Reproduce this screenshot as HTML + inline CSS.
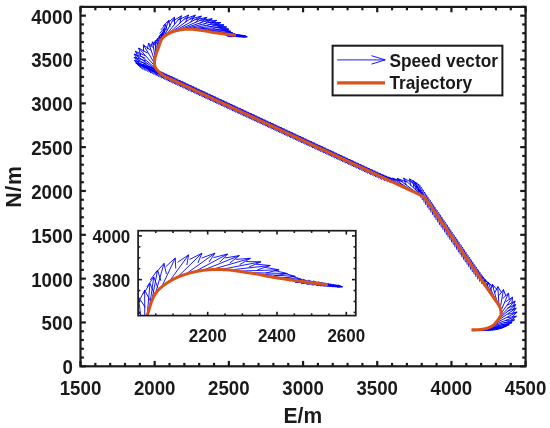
<!DOCTYPE html>
<html><head><meta charset="utf-8"><title>Trajectory</title>
<style>
html,body{margin:0;padding:0;background:#fff;}
svg{display:block;font-family:"Liberation Sans",Arial,sans-serif;font-weight:bold;fill:#1a1a1a;}
</style></head><body>
<svg width="550" height="428" viewBox="0 0 550 428">
<rect width="550" height="428" fill="#fff"/>
<defs>
<clipPath id="cm"><rect x="80.5" y="6.9" width="445.1" height="359.40000000000003"/></clipPath>
<clipPath id="ci"><rect x="138.1" y="230.7" width="217.70000000000002" height="84.90000000000003"/></clipPath>
</defs>
<g clip-path="url(#cm)" fill="none" stroke-linejoin="round">
<path d="M471.60 329.90 L481.99 329.86 M478.55 329.21 L481.99 329.86 L478.57 330.54 M472.57 329.90 L483.75 329.85 M480.05 329.15 L483.75 329.85 L480.07 330.59 M473.62 329.89 L485.66 329.83 M481.67 329.07 L485.66 329.83 L481.69 330.62 M474.75 329.87 L487.71 329.79 M483.42 328.98 L487.71 329.79 L483.45 330.65 M475.97 329.84 L489.93 329.71 M485.29 328.85 L489.93 329.71 L485.34 330.65 M477.28 329.79 L492.31 329.56 M487.31 328.67 L492.31 329.56 L487.39 330.60 M478.70 329.71 L494.87 329.32 M489.47 328.41 L494.87 329.32 L489.61 330.49 M480.22 329.58 L497.62 328.94 M491.76 328.03 L497.62 328.94 L491.99 330.27 M481.86 329.39 L500.51 328.37 M494.16 327.50 L500.51 328.37 L494.54 329.90 M483.60 329.11 L503.37 327.53 M496.55 326.78 L503.37 327.53 L497.14 329.32 M485.43 328.71 L506.30 326.35 M498.98 325.78 L506.30 326.35 L499.85 328.47 M487.36 328.16 L509.24 324.73 M501.39 324.45 L509.24 324.73 L502.65 327.27 M489.37 327.41 L512.06 322.59 M503.68 322.72 L512.06 322.59 L505.46 325.64 M491.43 326.40 L514.56 319.81 M505.71 320.50 L514.56 319.81 L508.14 323.47 M493.44 325.06 L516.40 316.28 M507.20 317.70 L516.40 316.28 L510.44 320.65 M495.29 323.31 L517.07 312.02 M507.81 314.35 L517.07 312.02 L511.97 317.15 M497.01 321.19 L516.19 308.04 M507.44 311.15 L516.19 308.04 L512.28 313.61 M498.69 318.94 L515.70 304.49 M507.42 308.16 L515.70 304.49 L512.75 310.35 M500.17 316.55 L515.08 301.03 M507.30 305.19 L515.08 301.03 L513.02 307.11 M500.96 313.85 L512.62 297.12 M505.69 301.89 L512.62 297.12 L511.86 303.39 M500.93 310.94 L508.49 293.15 M502.71 298.53 L508.49 293.15 L509.27 299.51 M500.24 308.10 L503.47 289.59 M498.99 295.49 L503.47 289.59 L505.81 295.90 M498.99 305.42 L497.82 286.59 M494.74 292.88 L497.82 286.59 L501.68 292.73 M497.36 302.90 L492.30 284.26 M490.53 290.73 L492.30 284.26 L497.40 290.08 M495.63 300.43 L487.87 282.09 M487.05 288.64 L487.87 282.09 L493.81 287.64 M493.91 297.96 L484.48 279.87 M484.26 286.45 L484.48 279.87 L490.92 285.24 M492.20 295.50 L481.73 277.58 M481.88 284.17 L481.73 277.58 L488.49 282.82 M490.50 293.04 L479.38 275.23 M479.77 281.82 L479.38 275.23 L486.33 280.39 M488.79 290.58 L477.28 272.82 M477.81 279.42 L477.28 272.82 L484.35 277.94 M487.09 288.11 L475.32 270.38 M475.94 276.99 L475.32 270.38 L482.47 275.47 M485.39 285.64 L473.46 267.92 M474.13 274.53 L473.46 267.92 L480.66 273.00 M483.68 283.16 L471.65 265.44 M472.36 272.07 L471.65 265.44 L478.89 270.52 M481.98 280.69 L469.87 262.96 M470.60 269.59 L469.87 262.96 L477.14 268.03 M480.28 278.22 L468.12 260.47 M468.86 267.11 L468.12 260.47 L475.40 265.55 M478.58 275.75 L466.37 257.99 M467.12 264.63 L466.37 257.99 L473.67 263.06 M476.87 273.28 L464.63 255.49 M465.39 262.15 L464.63 255.49 L471.95 260.58 M475.17 270.82 L462.91 253.00 M463.67 259.67 L462.91 253.00 L470.24 258.09 M473.47 268.35 L461.18 250.51 M461.95 257.18 L461.18 250.51 L468.52 255.60 M471.76 265.88 L459.46 248.01 M460.22 254.70 L459.46 248.01 L466.81 253.12 M470.06 263.41 L457.73 245.52 M458.50 252.21 L457.73 245.52 L465.10 250.63 M468.36 260.94 L456.01 243.02 M456.78 249.73 L456.01 243.02 L463.39 248.14 M466.65 258.47 L454.29 240.53 M455.06 247.24 L454.29 240.53 L461.68 245.65 M464.95 256.00 L452.57 238.03 M453.34 244.76 L452.57 238.03 L459.97 243.16 M463.25 253.53 L450.85 235.54 M451.62 242.27 L450.85 235.54 L458.26 240.68 M461.55 251.06 L449.13 233.04 M449.91 239.79 L449.13 233.04 L456.55 238.19 M459.84 248.59 L447.41 230.55 M448.19 237.30 L447.41 230.55 L454.84 235.70 M458.14 246.12 L445.69 228.05 M446.47 234.82 L445.69 228.05 L453.13 233.21 M456.44 243.65 L443.97 225.56 M444.75 232.33 L443.97 225.56 L451.42 230.72 M454.73 241.18 L442.25 223.06 M443.03 229.84 L442.25 223.06 L449.71 228.24 M453.03 238.71 L440.52 220.57 M441.31 227.36 L440.52 220.57 L448.00 225.75 M451.33 236.24 L438.80 218.07 M439.59 224.87 L438.80 218.07 L446.29 223.26 M449.63 233.77 L437.08 215.58 M437.87 222.39 L437.08 215.58 L444.58 220.77 M447.92 231.30 L435.36 213.08 M436.15 219.90 L435.36 213.08 L442.87 218.28 M446.22 228.83 L433.64 210.59 M434.43 217.42 L433.64 210.59 L441.16 215.80 M444.52 226.36 L431.92 208.09 M432.71 214.93 L431.92 208.09 L439.44 213.31 M442.81 223.89 L430.20 205.60 M430.99 212.44 L430.20 205.60 L437.74 210.82 M441.11 221.42 L428.48 203.10 M429.27 209.96 L428.48 203.10 L436.03 208.33 M439.41 218.95 L426.77 200.60 M427.56 207.47 L426.77 200.60 L434.32 205.84 M437.71 216.48 L425.05 198.11 M425.84 204.99 L425.05 198.11 L432.61 203.36 M436.00 214.01 L423.32 195.62 M424.11 202.50 L423.32 195.62 L430.89 200.87 M434.30 211.54 L421.58 193.13 M422.38 200.02 L421.58 193.13 L429.17 198.39 M432.59 209.07 L419.87 190.63 M420.67 197.54 L419.87 190.63 L427.46 195.90 M430.90 206.60 L418.18 188.13 M418.97 195.04 L418.18 188.13 L425.78 193.40 M429.20 204.12 L416.50 185.61 M417.28 192.54 L416.50 185.61 L424.11 190.90 M427.50 201.65 L414.78 183.12 M415.56 190.05 L414.78 183.12 L422.39 188.41 M425.78 199.19 L412.93 180.66 M413.76 187.60 L412.93 180.66 L420.59 185.95 M423.75 196.99 L409.47 178.79 M410.83 185.72 L409.47 178.79 L417.53 183.88 M421.26 195.34 L403.51 178.20 M406.21 185.00 L403.51 178.20 L412.53 182.71 M418.55 194.05 L397.22 178.36 M401.37 184.91 L397.22 178.36 L407.15 182.17 M415.82 192.79 L392.29 178.20 M397.37 184.53 L392.29 178.20 L402.74 181.50 M413.10 191.54 L388.19 177.73 M393.86 183.89 L388.19 177.73 L398.96 180.68 M410.37 190.29 L384.64 176.96 M390.68 183.01 L384.64 176.96 L395.59 179.70 M407.65 189.02 L381.43 175.99 M387.68 181.98 L381.43 175.99 L392.49 178.60 M404.93 187.76 L378.41 174.89 M384.79 180.84 L378.41 174.89 L389.53 177.43 M402.21 186.49 L375.48 173.73 M381.95 179.66 L375.48 173.73 L386.65 176.22 M399.49 185.23 L372.60 172.53 M379.13 178.45 L372.60 172.53 L383.82 174.99 M396.77 183.97 L369.77 171.30 M376.34 177.22 L369.77 171.30 L381.01 173.75 M394.04 182.71 L366.96 170.06 M373.56 175.98 L366.96 170.06 L378.23 172.49 M391.32 181.45 L364.17 168.80 M370.80 174.72 L364.17 168.80 L375.46 171.23 M388.60 180.19 L361.39 167.53 M368.03 173.46 L361.39 167.53 L372.70 169.96 M385.88 178.92 L358.61 166.26 M365.28 172.19 L358.61 166.26 L369.95 168.68 M383.16 177.66 L355.84 164.98 M362.52 170.92 L355.84 164.98 L367.20 167.41 M380.44 176.40 L353.08 163.70 M359.77 169.65 L353.08 163.70 L364.45 166.13 M377.71 175.14 L350.31 162.42 M357.01 168.38 L350.31 162.42 L361.70 164.86 M374.99 173.87 L347.55 161.14 M354.26 167.11 L347.55 161.14 L358.95 163.58 M372.27 172.61 L344.78 159.86 M351.50 165.84 L344.78 159.86 L356.20 162.30 M369.55 171.35 L342.02 158.58 M348.75 164.57 L342.02 158.58 L353.46 161.03 M366.83 170.09 L339.26 157.30 M346.00 163.30 L339.26 157.30 L350.71 159.75 M364.11 168.83 L336.49 156.02 M343.25 162.02 L336.49 156.02 L347.97 158.47 M361.38 167.56 L333.73 154.74 M340.49 160.75 L333.73 154.74 L345.22 157.19 M358.66 166.30 L330.97 153.46 M337.74 159.48 L330.97 153.46 L342.47 155.92 M355.94 165.04 L328.21 152.18 M334.99 158.21 L328.21 152.18 L339.73 154.64 M353.22 163.78 L325.44 150.90 M332.23 156.94 L325.44 150.90 L336.98 153.36 M350.50 162.52 L322.68 149.62 M329.48 155.66 L322.68 149.62 L334.24 152.08 M347.78 161.25 L319.92 148.34 M326.73 154.39 L319.92 148.34 L331.49 150.81 M345.05 159.99 L317.15 147.05 M323.98 153.12 L317.15 147.05 L328.75 149.53 M342.33 158.73 L314.39 145.77 M321.22 151.85 L314.39 145.77 L326.00 148.25 M339.61 157.47 L311.63 144.49 M318.47 150.57 L311.63 144.49 L323.25 146.97 M336.89 156.21 L308.87 143.21 M315.72 149.30 L308.87 143.21 L320.51 145.70 M334.17 154.94 L306.10 141.93 M312.97 148.03 L306.10 141.93 L317.76 144.42 M331.45 153.68 L303.34 140.65 M310.21 146.76 L303.34 140.65 L315.02 143.14 M328.73 152.42 L300.58 139.37 M307.46 145.49 L300.58 139.37 L312.27 141.86 M326.00 151.16 L297.82 138.09 M304.71 144.21 L297.82 138.09 L309.53 140.59 M323.28 149.90 L295.05 136.81 M301.96 142.94 L295.05 136.81 L306.78 139.31 M320.56 148.63 L292.29 135.52 M299.20 141.67 L292.29 135.52 L304.04 138.03 M317.84 147.37 L289.53 134.24 M296.45 140.40 L289.53 134.24 L301.29 136.75 M315.12 146.11 L286.76 132.96 M293.70 139.13 L286.76 132.96 L298.54 135.48 M312.40 144.85 L284.00 131.68 M290.94 137.85 L284.00 131.68 L295.80 134.20 M309.67 143.59 L281.24 130.40 M288.19 136.58 L281.24 130.40 L293.05 132.92 M306.95 142.32 L278.48 129.12 M285.44 135.31 L278.48 129.12 L290.31 131.64 M304.23 141.06 L275.71 127.84 M282.69 134.04 L275.71 127.84 L287.56 130.37 M301.51 139.80 L272.95 126.56 M279.93 132.76 L272.95 126.56 L284.82 129.09 M298.79 138.54 L270.19 125.28 M277.18 131.49 L270.19 125.28 L282.07 127.81 M296.07 137.28 L267.43 123.99 M274.43 130.22 L267.43 123.99 L279.32 126.53 M293.34 136.01 L264.66 122.71 M271.68 128.95 L264.66 122.71 L276.58 125.26 M290.62 134.75 L261.90 121.43 M268.92 127.68 L261.90 121.43 L273.83 123.98 M287.90 133.49 L259.14 120.15 M266.17 126.40 L259.14 120.15 L271.09 122.70 M285.18 132.23 L256.37 118.87 M263.42 125.13 L256.37 118.87 L268.34 121.42 M282.46 130.97 L253.61 117.59 M260.67 123.86 L253.61 117.59 L265.60 120.15 M279.74 129.70 L250.85 116.31 M257.91 122.59 L250.85 116.31 L262.85 118.87 M277.01 128.44 L248.09 115.03 M255.16 121.31 L248.09 115.03 L260.10 117.59 M274.29 127.18 L245.32 113.75 M252.41 120.04 L245.32 113.75 L257.36 116.31 M271.57 125.92 L242.56 112.46 M249.65 118.77 L242.56 112.46 L254.61 115.04 M268.85 124.65 L239.80 111.18 M246.90 117.50 L239.80 111.18 L251.87 113.76 M266.13 123.39 L237.04 109.90 M244.15 116.23 L237.04 109.90 L249.12 112.48 M263.41 122.13 L234.27 108.62 M241.40 114.95 L234.27 108.62 L246.38 111.20 M260.68 120.87 L231.51 107.34 M238.64 113.68 L231.51 107.34 L243.63 109.93 M257.96 119.61 L228.75 106.06 M235.89 112.41 L228.75 106.06 L240.89 108.65 M255.24 118.34 L225.98 104.78 M233.14 111.14 L225.98 104.78 L238.14 107.37 M252.52 117.08 L223.22 103.50 M230.39 109.87 L223.22 103.50 L235.39 106.10 M249.80 115.82 L220.46 102.22 M227.63 108.59 L220.46 102.22 L232.65 104.82 M247.08 114.56 L217.70 100.93 M224.88 107.32 L217.70 100.93 L229.90 103.54 M244.35 113.30 L214.93 99.65 M222.13 106.05 L214.93 99.65 L227.16 102.26 M241.63 112.03 L212.17 98.37 M219.38 104.78 L212.17 98.37 L224.41 100.99 M238.91 110.77 L209.41 97.09 M216.62 103.50 L209.41 97.09 L221.67 99.71 M236.19 109.51 L206.65 95.81 M213.87 102.23 L206.65 95.81 L218.92 98.43 M233.47 108.25 L203.88 94.53 M211.12 100.96 L203.88 94.53 L216.17 97.15 M230.75 106.99 L201.12 93.25 M208.36 99.69 L201.12 93.25 L213.43 95.88 M228.03 105.72 L198.36 91.97 M205.61 98.42 L198.36 91.97 L210.68 94.60 M225.30 104.46 L195.59 90.69 M202.86 97.14 L195.59 90.69 L207.94 93.32 M222.58 103.20 L192.83 89.40 M200.11 95.87 L192.83 89.40 L205.19 92.04 M219.86 101.94 L190.10 88.14 M197.38 94.61 L190.10 88.14 L202.46 90.78 M217.14 100.68 L187.38 86.88 M194.65 93.34 L187.38 86.88 L199.74 89.51 M214.42 99.41 L184.66 85.61 M191.93 92.08 L184.66 85.61 L197.02 88.25 M211.70 98.15 L181.93 84.35 M189.21 90.82 L181.93 84.35 L194.30 86.99 M208.97 96.89 L179.21 83.09 M186.49 89.56 L179.21 83.09 L191.58 85.73 M206.25 95.63 L176.49 81.83 M183.77 88.30 L176.49 81.83 L188.86 84.47 M203.53 94.37 L173.77 80.57 M181.05 87.03 L173.77 80.57 L186.13 83.20 M200.81 93.10 L171.05 79.30 M178.32 85.77 L171.05 79.30 L183.41 81.94 M198.09 91.84 L168.32 78.04 M175.60 84.51 L168.32 78.04 L180.69 80.68 M195.37 90.58 L165.60 76.78 M172.88 83.25 L165.60 76.78 L177.97 79.42 M192.64 89.32 L162.89 75.51 M170.16 81.98 L162.89 75.51 L175.25 78.15 M189.92 88.05 L160.17 74.25 M167.44 80.72 L160.17 74.25 L172.53 76.89 M187.20 86.79 L157.44 72.99 M164.72 79.46 L157.44 72.99 L169.80 75.63 M184.48 85.53 L154.70 71.74 M161.99 78.21 L154.70 71.74 L167.07 74.38 M181.75 84.27 L151.97 70.49 M159.26 76.95 L151.97 70.49 L164.34 73.12 M179.03 83.01 L149.27 69.21 M156.55 75.68 L149.27 69.21 L161.63 71.85 M176.32 81.74 L146.60 67.91 M153.86 74.38 L146.60 67.91 L158.96 70.56 M173.61 80.47 L143.93 66.61 M151.17 73.09 L143.93 66.61 L156.28 69.27 M170.89 79.21 L141.16 65.38 M148.42 71.85 L141.16 65.38 L153.52 68.03 M168.14 77.97 L138.26 64.26 M145.59 70.71 L138.26 64.26 L150.64 66.86 M165.41 76.69 L135.66 62.88 M142.94 69.35 L135.66 62.88 L148.03 65.53 M162.85 75.16 L134.28 60.51 M141.01 67.19 L134.28 60.51 L146.41 63.51 M160.51 73.30 L134.10 57.29 M139.87 64.27 L134.10 57.29 L145.76 60.88 M158.30 71.22 L134.10 54.04 M138.92 61.26 L134.10 54.04 L145.25 58.15 M156.31 68.95 L135.27 51.25 M138.95 58.44 L135.27 51.25 L145.47 55.74 M154.99 66.29 L138.64 48.04 M140.67 55.11 L138.64 48.04 L147.40 53.01 M154.49 63.30 L143.40 44.82 M143.65 51.64 L143.40 44.82 L150.46 50.21 M154.61 60.30 L148.56 43.03 M147.38 49.12 L148.56 43.03 L153.74 48.34 M155.10 57.53 L152.58 41.81 M150.52 47.16 L152.58 41.81 L156.31 46.84 M155.74 55.09 L155.39 40.63 M152.84 45.43 L155.39 40.63 L158.17 45.38 M156.45 52.91 L157.61 38.46 M154.56 43.15 L157.61 38.46 L159.89 43.30 M157.27 50.76 L159.69 36.37 M156.24 40.96 L159.69 36.37 L161.54 41.27 M158.10 48.61 L161.44 34.29 M157.70 38.80 L161.44 34.29 L162.98 39.23 M158.86 46.42 L162.66 32.13 M158.77 36.60 L162.66 32.13 L164.04 37.09 M159.56 44.18 L163.93 28.56 M159.61 33.43 L163.93 28.56 L165.37 33.99 M160.41 41.78 L165.69 24.51 M160.76 29.87 L165.69 24.51 L167.13 30.55 M161.66 39.33 L168.87 20.34 M162.99 26.14 L168.87 20.34 L169.99 27.07 M163.57 37.06 L174.49 17.22 M167.23 23.07 L174.49 17.22 L174.54 24.47 M165.96 35.18 L181.40 15.78 M172.73 21.19 L181.40 15.78 L179.88 23.17 M168.57 33.62 L188.62 15.05 M178.58 19.89 L188.62 15.05 L185.43 22.47 M171.28 32.33 L195.34 15.13 M184.23 19.26 L195.34 15.13 L190.57 22.35 M174.09 31.30 L201.45 16.05 M189.61 19.32 L201.45 16.05 L195.23 22.84 M176.99 30.51 L207.14 17.37 M194.77 19.77 L207.14 17.37 L199.61 23.65 M179.93 29.88 L212.19 18.80 M199.50 20.38 L212.19 18.80 L203.59 24.54 M182.89 29.43 L216.79 20.41 M203.94 21.21 L216.79 20.41 L207.26 25.57 M185.88 29.20 L220.80 22.55 M208.05 22.50 L220.80 22.55 L210.50 26.99 M188.88 29.16 L223.93 24.89 M211.57 24.05 L223.93 24.89 L213.15 28.56 M191.88 29.25 L226.55 27.01 M214.70 25.52 L226.55 27.01 L215.52 29.98 M194.87 29.49 L228.83 29.14 M217.56 27.07 L228.83 29.14 L217.69 31.44 M197.85 29.88 L230.81 31.31 M220.19 28.72 L230.81 31.31 L219.67 32.96 M200.82 30.32 L232.66 32.88 M222.62 29.99 L232.66 32.88 L221.68 34.09 M203.79 30.73 L234.57 33.85 M224.98 30.84 L234.57 33.85 L223.83 34.80 M206.69 31.21 L236.26 34.91 M227.18 31.78 L236.26 34.91 L225.82 35.59 M209.48 31.76 L236.85 35.87 M228.57 32.75 L236.85 35.87 L227.06 36.28 M212.09 32.23 L237.56 36.32 M229.91 33.33 L237.56 36.32 L228.40 36.61 M214.54 32.60 L238.38 36.34 M231.20 33.57 L238.38 36.34 L229.82 36.64 M216.84 32.91 L239.17 36.27 M232.42 33.72 L239.17 36.27 L231.18 36.60 M218.99 33.20 L239.89 36.24 M233.56 33.89 L239.89 36.24 L232.43 36.58 M221.00 33.47 L240.55 36.25 M234.61 34.07 L240.55 36.25 L233.59 36.59 M222.87 33.72 L241.16 36.27 M235.60 34.25 L241.16 36.27 L234.66 36.60 M224.62 33.94 L241.93 36.31 M236.66 34.42 L241.93 36.31 L235.79 36.64 M226.28 34.15 L242.71 36.36 M237.70 34.57 L242.71 36.36 L236.88 36.69 M227.86 34.34 L243.45 36.40 M238.68 34.72 L243.45 36.40 L237.92 36.73 M229.35 34.53 L244.15 36.45 M239.62 34.86 L244.15 36.45 L238.91 36.77 M230.76 34.70 L244.81 36.50 M240.50 35.00 L244.81 36.50 L239.84 36.81 M232.10 34.86 L245.43 36.54 M241.34 35.13 L245.43 36.54 L240.72 36.85 M233.38 35.01 L246.02 36.59 M242.14 35.26 L246.02 36.59 L241.56 36.88 M234.58 35.15 L246.58 36.64 M242.89 35.38 L246.58 36.64 L242.35 36.92 M235.73 35.29 L247.11 36.69 M243.61 35.49 L247.11 36.69 L243.09 36.96 M235.84 35.30 L247.16 36.69 M243.68 35.51 L247.16 36.69 L243.17 36.96" stroke="#0000ff" stroke-width="0.95"/>
<path d="M471.60 329.90 L472.08 329.90 L472.56 329.90 L473.05 329.89 L473.53 329.89 L474.02 329.88 L474.50 329.87 L474.99 329.87 L475.47 329.85 L475.96 329.84 L476.45 329.82 L476.94 329.80 L477.42 329.78 L477.91 329.76 L478.40 329.73 L478.88 329.69 L479.37 329.66 L479.86 329.61 L480.34 329.57 L480.83 329.51 L481.31 329.46 L481.79 329.39 L482.28 329.33 L482.76 329.25 L483.24 329.17 L483.72 329.08 L484.19 328.99 L484.67 328.89 L485.14 328.78 L485.62 328.66 L486.09 328.54 L486.56 328.41 L487.02 328.27 L487.49 328.12 L487.95 327.96 L488.41 327.80 L488.87 327.62 L489.33 327.43 L489.78 327.24 L490.22 327.03 L490.67 326.81 L491.10 326.59 L491.53 326.35 L491.95 326.10 L492.36 325.84 L492.77 325.57 L493.16 325.28 L493.54 324.99 L493.91 324.68 L494.27 324.36 L494.62 324.02 L494.96 323.68 L495.28 323.32 L495.60 322.96 L495.92 322.59 L496.22 322.21 L496.52 321.83 L496.82 321.44 L497.12 321.05 L497.41 320.65 L497.71 320.26 L498.00 319.86 L498.30 319.46 L498.59 319.07 L498.88 318.67 L499.16 318.26 L499.43 317.85 L499.69 317.44 L499.93 317.02 L500.15 316.59 L500.35 316.15 L500.53 315.70 L500.68 315.25 L500.80 314.78 L500.90 314.30 L500.97 313.82 L501.01 313.33 L501.04 312.84 L501.04 312.35 L501.02 311.85 L500.98 311.36 L500.92 310.88 L500.85 310.39 L500.75 309.91 L500.65 309.43 L500.52 308.96 L500.38 308.50 L500.22 308.04 L500.05 307.58 L499.86 307.13 L499.66 306.69 L499.44 306.26 L499.22 305.83 L498.98 305.41 L498.73 304.99 L498.47 304.57 L498.21 304.16 L497.94 303.76 L497.67 303.35 L497.39 302.95 L497.11 302.55 L496.83 302.15 L496.55 301.75 L496.27 301.35 L495.99 300.95 L495.72 300.55 L495.44 300.15 L495.16 299.75 L494.88 299.35 L494.60 298.95 L494.32 298.55 L494.04 298.15 L493.77 297.76 L493.49 297.36 L493.21 296.96 L492.94 296.56 L492.66 296.16 L492.38 295.76 L492.11 295.36 L491.83 294.97 L491.55 294.57 L491.28 294.17 L491.00 293.77 L490.72 293.37 L490.45 292.97 L490.17 292.57 L489.90 292.17 L489.62 291.77 L489.34 291.37 L489.07 290.97 L488.79 290.57 L488.52 290.18 L488.24 289.78 L487.96 289.38 L487.69 288.98 L487.41 288.58 L487.14 288.18 L486.86 287.78 L486.58 287.38 L486.31 286.97 L486.03 286.57 L485.76 286.17 L485.48 285.77 L485.21 285.37 L484.93 284.97 L484.65 284.57 L484.38 284.17 L484.10 283.77 L483.83 283.37 L483.55 282.97 L483.27 282.57 L483.00 282.17 L482.72 281.77 L482.45 281.37 L482.17 280.97 L481.90 280.57 L481.62 280.17 L481.34 279.77 L481.07 279.37 L480.79 278.97 L480.52 278.57 L480.24 278.17 L479.96 277.77 L479.69 277.37 L479.41 276.97 L479.14 276.57 L478.86 276.17 L478.59 275.77 L478.31 275.37 L478.03 274.97 L477.76 274.57 L477.48 274.17 L477.21 273.77 L476.93 273.37 L476.65 272.97 L476.38 272.57 L476.10 272.17 L475.83 271.77 L475.55 271.37 L475.27 270.97 L475.00 270.57 L474.72 270.17 L474.45 269.77 L474.17 269.37 L473.90 268.97 L473.62 268.57 L473.34 268.17 L473.07 267.77 L472.79 267.37 L472.52 266.97 L472.24 266.57 L471.96 266.17 L471.69 265.77 L471.41 265.37 L471.14 264.97 L470.86 264.57 L470.58 264.17 L470.31 263.77 L470.03 263.37 L469.76 262.97 L469.48 262.57 L469.21 262.17 L468.93 261.77 L468.65 261.36 L468.38 260.96 L468.10 260.56 L467.83 260.16 L467.55 259.76 L467.27 259.36 L467.00 258.96 L466.72 258.56 L466.45 258.16 L466.17 257.76 L465.90 257.36 L465.62 256.96 L465.34 256.56 L465.07 256.16 L464.79 255.76 L464.52 255.36 L464.24 254.96 L463.96 254.56 L463.69 254.16 L463.41 253.76 L463.14 253.36 L462.86 252.96 L462.58 252.56 L462.31 252.16 L462.03 251.76 L461.76 251.36 L461.48 250.96 L461.21 250.56 L460.93 250.16 L460.65 249.76 L460.38 249.36 L460.10 248.96 L459.83 248.56 L459.55 248.16 L459.27 247.76 L459.00 247.36 L458.72 246.96 L458.45 246.56 L458.17 246.16 L457.89 245.76 L457.62 245.36 L457.34 244.96 L457.07 244.56 L456.79 244.16 L456.52 243.76 L456.24 243.36 L455.96 242.96 L455.69 242.56 L455.41 242.16 L455.14 241.76 L454.86 241.36 L454.58 240.96 L454.31 240.56 L454.03 240.16 L453.76 239.76 L453.48 239.36 L453.21 238.96 L452.93 238.56 L452.65 238.16 L452.38 237.76 L452.10 237.36 L451.83 236.96 L451.55 236.56 L451.27 236.16 L451.00 235.76 L450.72 235.36 L450.45 234.96 L450.17 234.56 L449.89 234.16 L449.62 233.76 L449.34 233.36 L449.07 232.96 L448.79 232.56 L448.52 232.16 L448.24 231.76 L447.96 231.36 L447.69 230.96 L447.41 230.56 L447.14 230.16 L446.86 229.76 L446.58 229.36 L446.31 228.96 L446.03 228.56 L445.76 228.16 L445.48 227.76 L445.20 227.36 L444.93 226.96 L444.65 226.56 L444.38 226.16 L444.10 225.76 L443.83 225.36 L443.55 224.95 L443.27 224.55 L443.00 224.15 L442.72 223.75 L442.45 223.35 L442.17 222.95 L441.89 222.55 L441.62 222.15 L441.34 221.75 L441.07 221.35 L440.79 220.95 L440.52 220.55 L440.24 220.15 L439.96 219.75 L439.69 219.35 L439.41 218.95 L439.14 218.55 L438.86 218.15 L438.59 217.75 L438.31 217.35 L438.03 216.95 L437.76 216.55 L437.48 216.15 L437.21 215.75 L436.93 215.35 L436.65 214.95 L436.38 214.55 L436.10 214.15 L435.82 213.75 L435.55 213.35 L435.27 212.95 L435.00 212.55 L434.72 212.15 L434.44 211.75 L434.17 211.35 L433.89 210.95 L433.61 210.55 L433.34 210.15 L433.06 209.75 L432.79 209.35 L432.51 208.95 L432.24 208.55 L431.96 208.15 L431.69 207.75 L431.41 207.35 L431.14 206.95 L430.86 206.55 L430.59 206.15 L430.31 205.75 L430.04 205.34 L429.77 204.94 L429.49 204.54 L429.22 204.14 L428.94 203.74 L428.67 203.34 L428.39 202.94 L428.12 202.54 L427.84 202.14 L427.57 201.74 L427.29 201.34 L427.01 200.94 L426.73 200.54 L426.45 200.14 L426.17 199.75 L425.89 199.35 L425.61 198.96 L425.30 198.58 L424.99 198.21 L424.66 197.85 L424.32 197.50 L423.96 197.17 L423.59 196.86 L423.21 196.56 L422.82 196.27 L422.41 196.00 L422.00 195.74 L421.58 195.50 L421.14 195.28 L420.71 195.07 L420.27 194.86 L419.83 194.65 L419.39 194.44 L418.95 194.24 L418.51 194.03 L418.07 193.83 L417.63 193.62 L417.19 193.42 L416.75 193.21 L416.30 193.01 L415.86 192.81 L415.42 192.60 L414.98 192.40 L414.54 192.20 L414.10 192.00 L413.65 191.79 L413.21 191.59 L412.77 191.39 L412.33 191.19 L411.89 190.98 L411.45 190.78 L411.00 190.58 L410.56 190.37 L410.12 190.17 L409.68 189.97 L409.24 189.76 L408.80 189.56 L408.36 189.35 L407.92 189.15 L407.48 188.94 L407.04 188.74 L406.59 188.53 L406.15 188.33 L405.71 188.12 L405.27 187.92 L404.83 187.71 L404.39 187.51 L403.95 187.30 L403.51 187.10 L403.07 186.89 L402.63 186.69 L402.19 186.48 L401.75 186.28 L401.31 186.08 L400.87 185.87 L400.42 185.67 L399.98 185.46 L399.54 185.26 L399.10 185.05 L398.66 184.85 L398.22 184.64 L397.78 184.44 L397.34 184.24 L396.90 184.03 L396.46 183.83 L396.02 183.62 L395.57 183.42 L395.13 183.21 L394.69 183.01 L394.25 182.81 L393.81 182.60 L393.37 182.40 L392.93 182.19 L392.49 181.99 L392.05 181.78 L391.61 181.58 L391.16 181.37 L390.72 181.17 L390.28 180.97 L389.84 180.76 L389.40 180.56 L388.96 180.35 L388.52 180.15 L388.08 179.94 L387.64 179.74 L387.20 179.53 L386.76 179.33 L386.32 179.13 L385.87 178.92 L385.43 178.72 L384.99 178.51 L384.55 178.31 L384.11 178.10 L383.67 177.90 L383.23 177.69 L382.79 177.49 L382.35 177.28 L381.91 177.08 L381.47 176.88 L381.02 176.67 L380.58 176.47 L380.14 176.26 L379.70 176.06 L379.26 175.85 L378.82 175.65 L378.38 175.44 L377.94 175.24 L377.50 175.04 L377.06 174.83 L376.62 174.63 L376.17 174.42 L375.73 174.22 L375.29 174.01 L374.85 173.81 L374.41 173.60 L373.97 173.40 L373.53 173.20 L373.09 172.99 L372.65 172.79 L372.21 172.58 L371.77 172.38 L371.32 172.17 L370.88 171.97 L370.44 171.76 L370.00 171.56 L369.56 171.36 L369.12 171.15 L368.68 170.95 L368.24 170.74 L367.80 170.54 L367.36 170.33 L366.92 170.13 L366.47 169.92 L366.03 169.72 L365.59 169.52 L365.15 169.31 L364.71 169.11 L364.27 168.90 L363.83 168.70 L363.39 168.49 L362.95 168.29 L362.51 168.08 L362.07 167.88 L361.62 167.68 L361.18 167.47 L360.74 167.27 L360.30 167.06 L359.86 166.86 L359.42 166.65 L358.98 166.45 L358.54 166.24 L358.10 166.04 L357.66 165.84 L357.22 165.63 L356.77 165.43 L356.33 165.22 L355.89 165.02 L355.45 164.81 L355.01 164.61 L354.57 164.40 L354.13 164.20 L353.69 164.00 L353.25 163.79 L352.81 163.59 L352.37 163.38 L351.92 163.18 L351.48 162.97 L351.04 162.77 L350.60 162.56 L350.16 162.36 L349.72 162.16 L349.28 161.95 L348.84 161.75 L348.40 161.54 L347.96 161.34 L347.52 161.13 L347.07 160.93 L346.63 160.72 L346.19 160.52 L345.75 160.32 L345.31 160.11 L344.87 159.91 L344.43 159.70 L343.99 159.50 L343.55 159.29 L343.11 159.09 L342.67 158.88 L342.22 158.68 L341.78 158.48 L341.34 158.27 L340.90 158.07 L340.46 157.86 L340.02 157.66 L339.58 157.45 L339.14 157.25 L338.70 157.04 L338.26 156.84 L337.82 156.64 L337.38 156.43 L336.93 156.23 L336.49 156.02 L336.05 155.82 L335.61 155.61 L335.17 155.41 L334.73 155.20 L334.29 155.00 L333.85 154.80 L333.41 154.59 L332.97 154.39 L332.53 154.18 L332.08 153.98 L331.64 153.77 L331.20 153.57 L330.76 153.36 L330.32 153.16 L329.88 152.96 L329.44 152.75 L329.00 152.55 L328.56 152.34 L328.12 152.14 L327.68 151.93 L327.23 151.73 L326.79 151.52 L326.35 151.32 L325.91 151.12 L325.47 150.91 L325.03 150.71 L324.59 150.50 L324.15 150.30 L323.71 150.09 L323.27 149.89 L322.83 149.68 L322.38 149.48 L321.94 149.28 L321.50 149.07 L321.06 148.87 L320.62 148.66 L320.18 148.46 L319.74 148.25 L319.30 148.05 L318.86 147.84 L318.42 147.64 L317.98 147.44 L317.53 147.23 L317.09 147.03 L316.65 146.82 L316.21 146.62 L315.77 146.41 L315.33 146.21 L314.89 146.00 L314.45 145.80 L314.01 145.60 L313.57 145.39 L313.13 145.19 L312.68 144.98 L312.24 144.78 L311.80 144.57 L311.36 144.37 L310.92 144.16 L310.48 143.96 L310.04 143.76 L309.60 143.55 L309.16 143.35 L308.72 143.14 L308.28 142.94 L307.83 142.73 L307.39 142.53 L306.95 142.32 L306.51 142.12 L306.07 141.92 L305.63 141.71 L305.19 141.51 L304.75 141.30 L304.31 141.10 L303.87 140.89 L303.43 140.69 L302.98 140.48 L302.54 140.28 L302.10 140.07 L301.66 139.87 L301.22 139.67 L300.78 139.46 L300.34 139.26 L299.90 139.05 L299.46 138.85 L299.02 138.64 L298.58 138.44 L298.13 138.23 L297.69 138.03 L297.25 137.83 L296.81 137.62 L296.37 137.42 L295.93 137.21 L295.49 137.01 L295.05 136.80 L294.61 136.60 L294.17 136.39 L293.73 136.19 L293.28 135.99 L292.84 135.78 L292.40 135.58 L291.96 135.37 L291.52 135.17 L291.08 134.96 L290.64 134.76 L290.20 134.55 L289.76 134.35 L289.32 134.15 L288.88 133.94 L288.44 133.74 L287.99 133.53 L287.55 133.33 L287.11 133.12 L286.67 132.92 L286.23 132.71 L285.79 132.51 L285.35 132.31 L284.91 132.10 L284.47 131.90 L284.03 131.69 L283.59 131.49 L283.14 131.28 L282.70 131.08 L282.26 130.87 L281.82 130.67 L281.38 130.47 L280.94 130.26 L280.50 130.06 L280.06 129.85 L279.62 129.65 L279.18 129.44 L278.74 129.24 L278.29 129.03 L277.85 128.83 L277.41 128.63 L276.97 128.42 L276.53 128.22 L276.09 128.01 L275.65 127.81 L275.21 127.60 L274.77 127.40 L274.33 127.19 L273.89 126.99 L273.44 126.79 L273.00 126.58 L272.56 126.38 L272.12 126.17 L271.68 125.97 L271.24 125.76 L270.80 125.56 L270.36 125.35 L269.92 125.15 L269.48 124.95 L269.04 124.74 L268.59 124.54 L268.15 124.33 L267.71 124.13 L267.27 123.92 L266.83 123.72 L266.39 123.51 L265.95 123.31 L265.51 123.11 L265.07 122.90 L264.63 122.70 L264.19 122.49 L263.74 122.29 L263.30 122.08 L262.86 121.88 L262.42 121.67 L261.98 121.47 L261.54 121.27 L261.10 121.06 L260.66 120.86 L260.22 120.65 L259.78 120.45 L259.34 120.24 L258.89 120.04 L258.45 119.83 L258.01 119.63 L257.57 119.43 L257.13 119.22 L256.69 119.02 L256.25 118.81 L255.81 118.61 L255.37 118.40 L254.93 118.20 L254.49 117.99 L254.04 117.79 L253.60 117.59 L253.16 117.38 L252.72 117.18 L252.28 116.97 L251.84 116.77 L251.40 116.56 L250.96 116.36 L250.52 116.15 L250.08 115.95 L249.64 115.75 L249.19 115.54 L248.75 115.34 L248.31 115.13 L247.87 114.93 L247.43 114.72 L246.99 114.52 L246.55 114.31 L246.11 114.11 L245.67 113.91 L245.23 113.70 L244.79 113.50 L244.34 113.29 L243.90 113.09 L243.46 112.88 L243.02 112.68 L242.58 112.47 L242.14 112.27 L241.70 112.07 L241.26 111.86 L240.82 111.66 L240.38 111.45 L239.94 111.25 L239.50 111.04 L239.05 110.84 L238.61 110.63 L238.17 110.43 L237.73 110.23 L237.29 110.02 L236.85 109.82 L236.41 109.61 L235.97 109.41 L235.53 109.20 L235.09 109.00 L234.65 108.79 L234.20 108.59 L233.76 108.39 L233.32 108.18 L232.88 107.98 L232.44 107.77 L232.00 107.57 L231.56 107.36 L231.12 107.16 L230.68 106.95 L230.24 106.75 L229.80 106.55 L229.35 106.34 L228.91 106.14 L228.47 105.93 L228.03 105.73 L227.59 105.52 L227.15 105.32 L226.71 105.11 L226.27 104.91 L225.83 104.71 L225.39 104.50 L224.95 104.30 L224.50 104.09 L224.06 103.89 L223.62 103.68 L223.18 103.48 L222.74 103.27 L222.30 103.07 L221.86 102.86 L221.42 102.66 L220.98 102.46 L220.54 102.25 L220.10 102.05 L219.65 101.84 L219.21 101.64 L218.77 101.43 L218.33 101.23 L217.89 101.02 L217.45 100.82 L217.01 100.62 L216.57 100.41 L216.13 100.21 L215.69 100.00 L215.25 99.80 L214.80 99.59 L214.36 99.39 L213.92 99.18 L213.48 98.98 L213.04 98.78 L212.60 98.57 L212.16 98.37 L211.72 98.16 L211.28 97.96 L210.84 97.75 L210.40 97.55 L209.95 97.34 L209.51 97.14 L209.07 96.94 L208.63 96.73 L208.19 96.53 L207.75 96.32 L207.31 96.12 L206.87 95.91 L206.43 95.71 L205.99 95.50 L205.55 95.30 L205.10 95.10 L204.66 94.89 L204.22 94.69 L203.78 94.48 L203.34 94.28 L202.90 94.07 L202.46 93.87 L202.02 93.66 L201.58 93.46 L201.14 93.26 L200.70 93.05 L200.25 92.85 L199.81 92.64 L199.37 92.44 L198.93 92.23 L198.49 92.03 L198.05 91.82 L197.61 91.62 L197.17 91.42 L196.73 91.21 L196.29 91.01 L195.85 90.80 L195.40 90.60 L194.96 90.39 L194.52 90.19 L194.08 89.98 L193.64 89.78 L193.20 89.58 L192.76 89.37 L192.32 89.17 L191.88 88.96 L191.44 88.76 L191.00 88.55 L190.56 88.35 L190.12 88.14 L189.67 87.94 L189.23 87.73 L188.79 87.53 L188.35 87.33 L187.91 87.12 L187.47 86.92 L187.03 86.71 L186.59 86.51 L186.15 86.30 L185.70 86.10 L185.26 85.90 L184.82 85.69 L184.38 85.49 L183.94 85.29 L183.50 85.08 L183.06 84.88 L182.61 84.67 L182.17 84.47 L181.73 84.26 L181.29 84.06 L180.85 83.86 L180.41 83.65 L179.97 83.45 L179.53 83.24 L179.09 83.04 L178.65 82.83 L178.21 82.63 L177.77 82.42 L177.33 82.21 L176.89 82.01 L176.45 81.80 L176.01 81.59 L175.57 81.39 L175.13 81.18 L174.70 80.98 L174.26 80.77 L173.82 80.56 L173.38 80.36 L172.94 80.15 L172.50 79.95 L172.05 79.74 L171.61 79.54 L171.17 79.34 L170.73 79.13 L170.28 78.93 L169.84 78.73 L169.40 78.53 L168.95 78.33 L168.50 78.13 L168.06 77.94 L167.61 77.74 L167.16 77.53 L166.72 77.33 L166.28 77.12 L165.84 76.91 L165.41 76.69 L164.98 76.46 L164.55 76.23 L164.14 75.99 L163.72 75.74 L163.32 75.48 L162.92 75.21 L162.52 74.93 L162.14 74.64 L161.76 74.34 L161.38 74.04 L161.01 73.72 L160.64 73.40 L160.27 73.08 L159.91 72.75 L159.55 72.42 L159.19 72.08 L158.84 71.74 L158.48 71.40 L158.13 71.05 L157.78 70.70 L157.45 70.34 L157.12 69.98 L156.80 69.60 L156.50 69.22 L156.22 68.83 L155.95 68.43 L155.71 68.01 L155.49 67.58 L155.29 67.14 L155.12 66.68 L154.97 66.22 L154.84 65.75 L154.73 65.27 L154.64 64.78 L154.57 64.30 L154.52 63.81 L154.49 63.32 L154.47 62.83 L154.47 62.34 L154.48 61.85 L154.51 61.37 L154.55 60.88 L154.60 60.40 L154.66 59.91 L154.73 59.43 L154.81 58.95 L154.90 58.47 L155.00 57.99 L155.11 57.52 L155.22 57.04 L155.33 56.57 L155.46 56.10 L155.58 55.63 L155.72 55.16 L155.86 54.70 L156.00 54.23 L156.16 53.77 L156.31 53.31 L156.47 52.85 L156.64 52.40 L156.81 51.94 L156.98 51.49 L157.16 51.04 L157.33 50.59 L157.51 50.14 L157.69 49.69 L157.87 49.23 L158.04 48.78 L158.21 48.32 L158.38 47.86 L158.54 47.40 L158.69 46.93 L158.85 46.46 L159.00 45.99 L159.14 45.52 L159.29 45.05 L159.44 44.57 L159.59 44.10 L159.74 43.63 L159.90 43.17 L160.06 42.70 L160.23 42.25 L160.41 41.79 L160.60 41.35 L160.80 40.91 L161.01 40.48 L161.23 40.05 L161.47 39.64 L161.72 39.23 L161.99 38.84 L162.28 38.46 L162.59 38.09 L162.91 37.73 L163.24 37.38 L163.59 37.04 L163.95 36.71 L164.33 36.39 L164.71 36.09 L165.10 35.79 L165.50 35.49 L165.91 35.21 L166.32 34.94 L166.74 34.67 L167.16 34.41 L167.59 34.16 L168.02 33.92 L168.45 33.68 L168.88 33.46 L169.31 33.23 L169.75 33.02 L170.19 32.81 L170.63 32.61 L171.08 32.42 L171.52 32.23 L171.97 32.05 L172.42 31.88 L172.88 31.71 L173.34 31.55 L173.80 31.40 L174.26 31.25 L174.72 31.11 L175.19 30.98 L175.66 30.85 L176.13 30.72 L176.60 30.60 L177.08 30.49 L177.55 30.38 L178.03 30.27 L178.50 30.17 L178.98 30.07 L179.46 29.97 L179.94 29.88 L180.41 29.80 L180.89 29.71 L181.37 29.64 L181.85 29.57 L182.34 29.50 L182.82 29.44 L183.30 29.39 L183.78 29.34 L184.27 29.30 L184.75 29.26 L185.24 29.23 L185.72 29.21 L186.21 29.19 L186.69 29.18 L187.18 29.17 L187.67 29.16 L188.15 29.16 L188.64 29.16 L189.13 29.16 L189.61 29.17 L190.10 29.18 L190.59 29.20 L191.07 29.21 L191.56 29.23 L192.04 29.26 L192.53 29.28 L193.01 29.32 L193.50 29.35 L193.98 29.40 L194.47 29.44 L194.95 29.49 L195.43 29.55 L195.91 29.61 L196.40 29.68 L196.88 29.74 L197.36 29.81 L197.84 29.88 L198.32 29.96 L198.80 30.03 L199.28 30.10 L199.76 30.17 L200.24 30.24 L200.73 30.31 L201.21 30.37 L201.69 30.44 L202.17 30.50 L202.65 30.57 L203.13 30.63 L203.61 30.70 L204.10 30.77 L204.58 30.84 L205.06 30.92 L205.54 31.00 L206.01 31.08 L206.49 31.17 L206.97 31.26 L207.45 31.35 L207.92 31.45 L208.40 31.54 L208.88 31.64 L209.35 31.73 L209.83 31.83 L210.31 31.92 L210.79 32.01 L211.26 32.09 L211.74 32.18 L212.22 32.26 L212.70 32.33 L213.18 32.41 L213.66 32.48 L214.14 32.55 L214.63 32.61 L215.11 32.68 L215.59 32.75 L216.07 32.81 L216.55 32.88 L217.03 32.94 L217.52 33.00 L218.00 33.07 L218.48 33.13 L218.96 33.20 L219.44 33.26 L219.92 33.33 L220.41 33.39 L220.89 33.45 L221.37 33.52 L221.85 33.58 L222.33 33.65 L222.82 33.71 L223.30 33.77 L223.78 33.83 L224.26 33.89 L224.74 33.96 L225.23 34.02 L225.71 34.08 L226.19 34.14 L226.67 34.20 L227.15 34.26 L227.64 34.32 L228.12 34.38 L228.60 34.44 L229.08 34.50 L229.57 34.55 L230.05 34.61 L230.53 34.67 L231.01 34.73 L231.50 34.79 L231.98 34.84 L232.46 34.90 L232.94 34.96 L233.43 35.02 L233.91 35.07 L234.39 35.13 L234.87 35.19 L235.36 35.24 L235.84 35.30" stroke="#d95319" stroke-width="3.1" stroke-linecap="butt"/>
</g>
<line x1="80.50" y1="366.30" x2="80.50" y2="360.90" stroke="#1a1a1a" stroke-width="2.20"/>
<line x1="80.50" y1="6.90" x2="80.50" y2="12.30" stroke="#1a1a1a" stroke-width="2.20"/>
<line x1="95.34" y1="366.30" x2="95.34" y2="362.90" stroke="#1a1a1a" stroke-width="2.20"/>
<line x1="95.34" y1="6.90" x2="95.34" y2="10.30" stroke="#1a1a1a" stroke-width="2.20"/>
<line x1="110.17" y1="366.30" x2="110.17" y2="362.90" stroke="#1a1a1a" stroke-width="2.20"/>
<line x1="110.17" y1="6.90" x2="110.17" y2="10.30" stroke="#1a1a1a" stroke-width="2.20"/>
<line x1="125.01" y1="366.30" x2="125.01" y2="362.90" stroke="#1a1a1a" stroke-width="2.20"/>
<line x1="125.01" y1="6.90" x2="125.01" y2="10.30" stroke="#1a1a1a" stroke-width="2.20"/>
<line x1="139.85" y1="366.30" x2="139.85" y2="362.90" stroke="#1a1a1a" stroke-width="2.20"/>
<line x1="139.85" y1="6.90" x2="139.85" y2="10.30" stroke="#1a1a1a" stroke-width="2.20"/>
<line x1="154.68" y1="366.30" x2="154.68" y2="360.90" stroke="#1a1a1a" stroke-width="2.20"/>
<line x1="154.68" y1="6.90" x2="154.68" y2="12.30" stroke="#1a1a1a" stroke-width="2.20"/>
<line x1="169.52" y1="366.30" x2="169.52" y2="362.90" stroke="#1a1a1a" stroke-width="2.20"/>
<line x1="169.52" y1="6.90" x2="169.52" y2="10.30" stroke="#1a1a1a" stroke-width="2.20"/>
<line x1="184.36" y1="366.30" x2="184.36" y2="362.90" stroke="#1a1a1a" stroke-width="2.20"/>
<line x1="184.36" y1="6.90" x2="184.36" y2="10.30" stroke="#1a1a1a" stroke-width="2.20"/>
<line x1="199.19" y1="366.30" x2="199.19" y2="362.90" stroke="#1a1a1a" stroke-width="2.20"/>
<line x1="199.19" y1="6.90" x2="199.19" y2="10.30" stroke="#1a1a1a" stroke-width="2.20"/>
<line x1="214.03" y1="366.30" x2="214.03" y2="362.90" stroke="#1a1a1a" stroke-width="2.20"/>
<line x1="214.03" y1="6.90" x2="214.03" y2="10.30" stroke="#1a1a1a" stroke-width="2.20"/>
<line x1="228.87" y1="366.30" x2="228.87" y2="360.90" stroke="#1a1a1a" stroke-width="2.20"/>
<line x1="228.87" y1="6.90" x2="228.87" y2="12.30" stroke="#1a1a1a" stroke-width="2.20"/>
<line x1="243.70" y1="366.30" x2="243.70" y2="362.90" stroke="#1a1a1a" stroke-width="2.20"/>
<line x1="243.70" y1="6.90" x2="243.70" y2="10.30" stroke="#1a1a1a" stroke-width="2.20"/>
<line x1="258.54" y1="366.30" x2="258.54" y2="362.90" stroke="#1a1a1a" stroke-width="2.20"/>
<line x1="258.54" y1="6.90" x2="258.54" y2="10.30" stroke="#1a1a1a" stroke-width="2.20"/>
<line x1="273.38" y1="366.30" x2="273.38" y2="362.90" stroke="#1a1a1a" stroke-width="2.20"/>
<line x1="273.38" y1="6.90" x2="273.38" y2="10.30" stroke="#1a1a1a" stroke-width="2.20"/>
<line x1="288.21" y1="366.30" x2="288.21" y2="362.90" stroke="#1a1a1a" stroke-width="2.20"/>
<line x1="288.21" y1="6.90" x2="288.21" y2="10.30" stroke="#1a1a1a" stroke-width="2.20"/>
<line x1="303.05" y1="366.30" x2="303.05" y2="360.90" stroke="#1a1a1a" stroke-width="2.20"/>
<line x1="303.05" y1="6.90" x2="303.05" y2="12.30" stroke="#1a1a1a" stroke-width="2.20"/>
<line x1="317.89" y1="366.30" x2="317.89" y2="362.90" stroke="#1a1a1a" stroke-width="2.20"/>
<line x1="317.89" y1="6.90" x2="317.89" y2="10.30" stroke="#1a1a1a" stroke-width="2.20"/>
<line x1="332.72" y1="366.30" x2="332.72" y2="362.90" stroke="#1a1a1a" stroke-width="2.20"/>
<line x1="332.72" y1="6.90" x2="332.72" y2="10.30" stroke="#1a1a1a" stroke-width="2.20"/>
<line x1="347.56" y1="366.30" x2="347.56" y2="362.90" stroke="#1a1a1a" stroke-width="2.20"/>
<line x1="347.56" y1="6.90" x2="347.56" y2="10.30" stroke="#1a1a1a" stroke-width="2.20"/>
<line x1="362.40" y1="366.30" x2="362.40" y2="362.90" stroke="#1a1a1a" stroke-width="2.20"/>
<line x1="362.40" y1="6.90" x2="362.40" y2="10.30" stroke="#1a1a1a" stroke-width="2.20"/>
<line x1="377.23" y1="366.30" x2="377.23" y2="360.90" stroke="#1a1a1a" stroke-width="2.20"/>
<line x1="377.23" y1="6.90" x2="377.23" y2="12.30" stroke="#1a1a1a" stroke-width="2.20"/>
<line x1="392.07" y1="366.30" x2="392.07" y2="362.90" stroke="#1a1a1a" stroke-width="2.20"/>
<line x1="392.07" y1="6.90" x2="392.07" y2="10.30" stroke="#1a1a1a" stroke-width="2.20"/>
<line x1="406.91" y1="366.30" x2="406.91" y2="362.90" stroke="#1a1a1a" stroke-width="2.20"/>
<line x1="406.91" y1="6.90" x2="406.91" y2="10.30" stroke="#1a1a1a" stroke-width="2.20"/>
<line x1="421.74" y1="366.30" x2="421.74" y2="362.90" stroke="#1a1a1a" stroke-width="2.20"/>
<line x1="421.74" y1="6.90" x2="421.74" y2="10.30" stroke="#1a1a1a" stroke-width="2.20"/>
<line x1="436.58" y1="366.30" x2="436.58" y2="362.90" stroke="#1a1a1a" stroke-width="2.20"/>
<line x1="436.58" y1="6.90" x2="436.58" y2="10.30" stroke="#1a1a1a" stroke-width="2.20"/>
<line x1="451.42" y1="366.30" x2="451.42" y2="360.90" stroke="#1a1a1a" stroke-width="2.20"/>
<line x1="451.42" y1="6.90" x2="451.42" y2="12.30" stroke="#1a1a1a" stroke-width="2.20"/>
<line x1="466.25" y1="366.30" x2="466.25" y2="362.90" stroke="#1a1a1a" stroke-width="2.20"/>
<line x1="466.25" y1="6.90" x2="466.25" y2="10.30" stroke="#1a1a1a" stroke-width="2.20"/>
<line x1="481.09" y1="366.30" x2="481.09" y2="362.90" stroke="#1a1a1a" stroke-width="2.20"/>
<line x1="481.09" y1="6.90" x2="481.09" y2="10.30" stroke="#1a1a1a" stroke-width="2.20"/>
<line x1="495.93" y1="366.30" x2="495.93" y2="362.90" stroke="#1a1a1a" stroke-width="2.20"/>
<line x1="495.93" y1="6.90" x2="495.93" y2="10.30" stroke="#1a1a1a" stroke-width="2.20"/>
<line x1="510.76" y1="366.30" x2="510.76" y2="362.90" stroke="#1a1a1a" stroke-width="2.20"/>
<line x1="510.76" y1="6.90" x2="510.76" y2="10.30" stroke="#1a1a1a" stroke-width="2.20"/>
<line x1="525.60" y1="366.30" x2="525.60" y2="360.90" stroke="#1a1a1a" stroke-width="2.20"/>
<line x1="525.60" y1="6.90" x2="525.60" y2="12.30" stroke="#1a1a1a" stroke-width="2.20"/>
<line x1="80.50" y1="366.30" x2="85.90" y2="366.30" stroke="#1a1a1a" stroke-width="2.20"/>
<line x1="525.60" y1="366.30" x2="520.20" y2="366.30" stroke="#1a1a1a" stroke-width="2.20"/>
<line x1="80.50" y1="357.53" x2="83.90" y2="357.53" stroke="#1a1a1a" stroke-width="2.20"/>
<line x1="525.60" y1="357.53" x2="522.20" y2="357.53" stroke="#1a1a1a" stroke-width="2.20"/>
<line x1="80.50" y1="348.77" x2="83.90" y2="348.77" stroke="#1a1a1a" stroke-width="2.20"/>
<line x1="525.60" y1="348.77" x2="522.20" y2="348.77" stroke="#1a1a1a" stroke-width="2.20"/>
<line x1="80.50" y1="340.00" x2="83.90" y2="340.00" stroke="#1a1a1a" stroke-width="2.20"/>
<line x1="525.60" y1="340.00" x2="522.20" y2="340.00" stroke="#1a1a1a" stroke-width="2.20"/>
<line x1="80.50" y1="331.24" x2="83.90" y2="331.24" stroke="#1a1a1a" stroke-width="2.20"/>
<line x1="525.60" y1="331.24" x2="522.20" y2="331.24" stroke="#1a1a1a" stroke-width="2.20"/>
<line x1="80.50" y1="322.47" x2="85.90" y2="322.47" stroke="#1a1a1a" stroke-width="2.20"/>
<line x1="525.60" y1="322.47" x2="520.20" y2="322.47" stroke="#1a1a1a" stroke-width="2.20"/>
<line x1="80.50" y1="313.70" x2="83.90" y2="313.70" stroke="#1a1a1a" stroke-width="2.20"/>
<line x1="525.60" y1="313.70" x2="522.20" y2="313.70" stroke="#1a1a1a" stroke-width="2.20"/>
<line x1="80.50" y1="304.94" x2="83.90" y2="304.94" stroke="#1a1a1a" stroke-width="2.20"/>
<line x1="525.60" y1="304.94" x2="522.20" y2="304.94" stroke="#1a1a1a" stroke-width="2.20"/>
<line x1="80.50" y1="296.17" x2="83.90" y2="296.17" stroke="#1a1a1a" stroke-width="2.20"/>
<line x1="525.60" y1="296.17" x2="522.20" y2="296.17" stroke="#1a1a1a" stroke-width="2.20"/>
<line x1="80.50" y1="287.41" x2="83.90" y2="287.41" stroke="#1a1a1a" stroke-width="2.20"/>
<line x1="525.60" y1="287.41" x2="522.20" y2="287.41" stroke="#1a1a1a" stroke-width="2.20"/>
<line x1="80.50" y1="278.64" x2="85.90" y2="278.64" stroke="#1a1a1a" stroke-width="2.20"/>
<line x1="525.60" y1="278.64" x2="520.20" y2="278.64" stroke="#1a1a1a" stroke-width="2.20"/>
<line x1="80.50" y1="269.88" x2="83.90" y2="269.88" stroke="#1a1a1a" stroke-width="2.20"/>
<line x1="525.60" y1="269.88" x2="522.20" y2="269.88" stroke="#1a1a1a" stroke-width="2.20"/>
<line x1="80.50" y1="261.11" x2="83.90" y2="261.11" stroke="#1a1a1a" stroke-width="2.20"/>
<line x1="525.60" y1="261.11" x2="522.20" y2="261.11" stroke="#1a1a1a" stroke-width="2.20"/>
<line x1="80.50" y1="252.34" x2="83.90" y2="252.34" stroke="#1a1a1a" stroke-width="2.20"/>
<line x1="525.60" y1="252.34" x2="522.20" y2="252.34" stroke="#1a1a1a" stroke-width="2.20"/>
<line x1="80.50" y1="243.58" x2="83.90" y2="243.58" stroke="#1a1a1a" stroke-width="2.20"/>
<line x1="525.60" y1="243.58" x2="522.20" y2="243.58" stroke="#1a1a1a" stroke-width="2.20"/>
<line x1="80.50" y1="234.81" x2="85.90" y2="234.81" stroke="#1a1a1a" stroke-width="2.20"/>
<line x1="525.60" y1="234.81" x2="520.20" y2="234.81" stroke="#1a1a1a" stroke-width="2.20"/>
<line x1="80.50" y1="226.05" x2="83.90" y2="226.05" stroke="#1a1a1a" stroke-width="2.20"/>
<line x1="525.60" y1="226.05" x2="522.20" y2="226.05" stroke="#1a1a1a" stroke-width="2.20"/>
<line x1="80.50" y1="217.28" x2="83.90" y2="217.28" stroke="#1a1a1a" stroke-width="2.20"/>
<line x1="525.60" y1="217.28" x2="522.20" y2="217.28" stroke="#1a1a1a" stroke-width="2.20"/>
<line x1="80.50" y1="208.51" x2="83.90" y2="208.51" stroke="#1a1a1a" stroke-width="2.20"/>
<line x1="525.60" y1="208.51" x2="522.20" y2="208.51" stroke="#1a1a1a" stroke-width="2.20"/>
<line x1="80.50" y1="199.75" x2="83.90" y2="199.75" stroke="#1a1a1a" stroke-width="2.20"/>
<line x1="525.60" y1="199.75" x2="522.20" y2="199.75" stroke="#1a1a1a" stroke-width="2.20"/>
<line x1="80.50" y1="190.98" x2="85.90" y2="190.98" stroke="#1a1a1a" stroke-width="2.20"/>
<line x1="525.60" y1="190.98" x2="520.20" y2="190.98" stroke="#1a1a1a" stroke-width="2.20"/>
<line x1="80.50" y1="182.22" x2="83.90" y2="182.22" stroke="#1a1a1a" stroke-width="2.20"/>
<line x1="525.60" y1="182.22" x2="522.20" y2="182.22" stroke="#1a1a1a" stroke-width="2.20"/>
<line x1="80.50" y1="173.45" x2="83.90" y2="173.45" stroke="#1a1a1a" stroke-width="2.20"/>
<line x1="525.60" y1="173.45" x2="522.20" y2="173.45" stroke="#1a1a1a" stroke-width="2.20"/>
<line x1="80.50" y1="164.69" x2="83.90" y2="164.69" stroke="#1a1a1a" stroke-width="2.20"/>
<line x1="525.60" y1="164.69" x2="522.20" y2="164.69" stroke="#1a1a1a" stroke-width="2.20"/>
<line x1="80.50" y1="155.92" x2="83.90" y2="155.92" stroke="#1a1a1a" stroke-width="2.20"/>
<line x1="525.60" y1="155.92" x2="522.20" y2="155.92" stroke="#1a1a1a" stroke-width="2.20"/>
<line x1="80.50" y1="147.15" x2="85.90" y2="147.15" stroke="#1a1a1a" stroke-width="2.20"/>
<line x1="525.60" y1="147.15" x2="520.20" y2="147.15" stroke="#1a1a1a" stroke-width="2.20"/>
<line x1="80.50" y1="138.39" x2="83.90" y2="138.39" stroke="#1a1a1a" stroke-width="2.20"/>
<line x1="525.60" y1="138.39" x2="522.20" y2="138.39" stroke="#1a1a1a" stroke-width="2.20"/>
<line x1="80.50" y1="129.62" x2="83.90" y2="129.62" stroke="#1a1a1a" stroke-width="2.20"/>
<line x1="525.60" y1="129.62" x2="522.20" y2="129.62" stroke="#1a1a1a" stroke-width="2.20"/>
<line x1="80.50" y1="120.86" x2="83.90" y2="120.86" stroke="#1a1a1a" stroke-width="2.20"/>
<line x1="525.60" y1="120.86" x2="522.20" y2="120.86" stroke="#1a1a1a" stroke-width="2.20"/>
<line x1="80.50" y1="112.09" x2="83.90" y2="112.09" stroke="#1a1a1a" stroke-width="2.20"/>
<line x1="525.60" y1="112.09" x2="522.20" y2="112.09" stroke="#1a1a1a" stroke-width="2.20"/>
<line x1="80.50" y1="103.32" x2="85.90" y2="103.32" stroke="#1a1a1a" stroke-width="2.20"/>
<line x1="525.60" y1="103.32" x2="520.20" y2="103.32" stroke="#1a1a1a" stroke-width="2.20"/>
<line x1="80.50" y1="94.56" x2="83.90" y2="94.56" stroke="#1a1a1a" stroke-width="2.20"/>
<line x1="525.60" y1="94.56" x2="522.20" y2="94.56" stroke="#1a1a1a" stroke-width="2.20"/>
<line x1="80.50" y1="85.79" x2="83.90" y2="85.79" stroke="#1a1a1a" stroke-width="2.20"/>
<line x1="525.60" y1="85.79" x2="522.20" y2="85.79" stroke="#1a1a1a" stroke-width="2.20"/>
<line x1="80.50" y1="77.03" x2="83.90" y2="77.03" stroke="#1a1a1a" stroke-width="2.20"/>
<line x1="525.60" y1="77.03" x2="522.20" y2="77.03" stroke="#1a1a1a" stroke-width="2.20"/>
<line x1="80.50" y1="68.26" x2="83.90" y2="68.26" stroke="#1a1a1a" stroke-width="2.20"/>
<line x1="525.60" y1="68.26" x2="522.20" y2="68.26" stroke="#1a1a1a" stroke-width="2.20"/>
<line x1="80.50" y1="59.50" x2="85.90" y2="59.50" stroke="#1a1a1a" stroke-width="2.20"/>
<line x1="525.60" y1="59.50" x2="520.20" y2="59.50" stroke="#1a1a1a" stroke-width="2.20"/>
<line x1="80.50" y1="50.73" x2="83.90" y2="50.73" stroke="#1a1a1a" stroke-width="2.20"/>
<line x1="525.60" y1="50.73" x2="522.20" y2="50.73" stroke="#1a1a1a" stroke-width="2.20"/>
<line x1="80.50" y1="41.96" x2="83.90" y2="41.96" stroke="#1a1a1a" stroke-width="2.20"/>
<line x1="525.60" y1="41.96" x2="522.20" y2="41.96" stroke="#1a1a1a" stroke-width="2.20"/>
<line x1="80.50" y1="33.20" x2="83.90" y2="33.20" stroke="#1a1a1a" stroke-width="2.20"/>
<line x1="525.60" y1="33.20" x2="522.20" y2="33.20" stroke="#1a1a1a" stroke-width="2.20"/>
<line x1="80.50" y1="24.43" x2="83.90" y2="24.43" stroke="#1a1a1a" stroke-width="2.20"/>
<line x1="525.60" y1="24.43" x2="522.20" y2="24.43" stroke="#1a1a1a" stroke-width="2.20"/>
<line x1="80.50" y1="15.67" x2="85.90" y2="15.67" stroke="#1a1a1a" stroke-width="2.20"/>
<line x1="525.60" y1="15.67" x2="520.20" y2="15.67" stroke="#1a1a1a" stroke-width="2.20"/>
<line x1="80.50" y1="6.90" x2="83.90" y2="6.90" stroke="#1a1a1a" stroke-width="2.20"/>
<line x1="525.60" y1="6.90" x2="522.20" y2="6.90" stroke="#1a1a1a" stroke-width="2.20"/>
<rect x="80.5" y="6.9" width="445.1" height="359.40000000000003" fill="none" stroke="#1a1a1a" stroke-width="2.2"/>
<!-- inset -->
<rect x="138.1" y="230.7" width="217.70000000000002" height="84.90000000000003" fill="#fff"/>
<g clip-path="url(#ci)" fill="none" stroke-linejoin="round">
<path d="M144.32 371.56 L110.43 346.77 M117.33 357.28 L110.43 346.77 L125.89 352.62 M139.62 363.63 L110.49 336.61 M115.44 347.53 L110.49 336.61 L124.77 343.53 M137.93 354.27 L115.83 324.80 M118.03 336.04 L115.83 324.80 L128.21 333.01 M138.54 344.82 L123.91 313.60 M123.35 324.91 L123.91 313.60 L134.13 322.90 M140.26 336.45 L131.77 304.40 M129.04 315.56 L131.77 304.40 L140.11 314.39 M142.32 329.36 L138.42 297.01 M134.12 307.96 L138.42 297.01 L145.30 307.42 M144.73 322.58 L144.68 290.19 M139.10 300.88 L144.68 290.19 L150.29 300.88 M147.15 315.78 L149.97 283.48 M143.46 293.94 L149.97 283.48 L154.62 294.33 M149.27 308.75 L153.75 276.92 M146.77 287.11 L153.75 276.92 L157.77 287.73 M151.64 301.38 L157.55 270.16 M150.21 280.06 L157.55 270.16 L160.99 280.87 M155.42 293.74 L163.98 263.37 M155.91 272.80 L163.98 263.37 L166.40 273.98 M161.58 286.99 L175.25 258.04 M165.74 266.66 L175.25 258.04 L175.74 268.53 M169.11 281.66 L188.66 254.82 M177.57 262.33 L188.66 254.82 L186.84 265.02 M177.08 277.47 L201.94 253.22 M189.55 259.51 L201.94 253.22 L197.93 262.93 M185.43 274.33 L215.03 253.10 M201.60 258.07 L215.03 253.10 L208.93 262.14 M194.05 272.04 L227.66 254.01 M213.45 257.65 L227.66 254.01 L219.68 262.27 M202.80 270.41 L239.31 255.61 M224.71 257.99 L239.31 255.61 L229.82 263.00 M211.64 269.62 L250.43 258.32 M235.68 259.39 L250.43 258.32 L239.58 264.72 M220.52 269.58 L260.81 261.80 M246.17 261.60 L260.81 261.80 L248.86 267.13 M229.39 270.05 L270.29 265.49 M256.00 264.18 L270.29 265.49 L257.58 269.80 M238.19 271.18 L279.07 269.77 M265.34 267.43 L279.07 269.77 L265.82 273.04 M246.98 272.55 L287.29 273.53 M274.16 270.44 L287.29 273.53 L273.82 275.98 M255.77 273.88 L295.30 276.41 M282.69 272.86 L295.30 276.41 L281.82 278.29 M264.21 275.55 L301.87 279.50 M290.12 275.61 L301.87 279.50 L288.76 280.78 M272.11 277.14 L307.42 281.78 M296.57 277.82 L307.42 281.78 L294.97 282.67 M279.40 278.30 L312.75 282.92 M302.54 279.10 L312.75 282.92 L300.95 283.68 M286.11 279.25 L317.71 283.67 M308.04 280.04 L317.71 283.67 L306.52 284.38 M292.25 280.13 L322.26 284.35 M313.09 280.89 L322.26 284.35 L311.63 285.02 M297.88 280.92 L326.44 284.93 M317.71 281.65 L326.44 284.93 L316.32 285.57 M303.05 281.63 L329.29 285.30 M321.26 282.28 L329.29 285.30 L319.99 285.89 M307.87 282.27 L331.82 285.59 M324.49 282.85 L331.82 285.59 L323.34 286.14 M312.37 282.86 L334.19 285.85 M327.51 283.37 L334.19 285.85 L326.48 286.36 M316.59 283.40 L336.41 286.09 M330.33 283.85 L336.41 286.09 L329.40 286.57 M320.52 283.91 L338.48 286.32 M332.97 284.29 L338.48 286.32 L332.14 286.76 M324.20 284.37 L340.41 286.53 M335.44 284.71 L340.41 286.53 L334.69 286.93 M327.64 284.81 L342.22 286.74 M337.74 285.10 L342.22 286.74 L337.07 287.10 M327.94 284.84 L342.37 286.75 M337.94 285.13 L342.37 286.75 L337.28 287.11" stroke="#0000ff" stroke-width="0.9"/>
<path d="M878.54 1019.17 L879.66 1019.16 L880.79 1019.16 L881.92 1019.15 L883.05 1019.14 L884.18 1019.12 L885.31 1019.10 L886.45 1019.08 L887.59 1019.05 L888.72 1019.02 L889.86 1018.98 L891.00 1018.93 L892.14 1018.87 L893.27 1018.81 L894.41 1018.74 L895.55 1018.65 L896.68 1018.56 L897.82 1018.45 L898.95 1018.34 L900.09 1018.21 L901.22 1018.07 L902.34 1017.91 L903.47 1017.74 L904.59 1017.55 L905.72 1017.35 L906.83 1017.14 L907.95 1016.90 L909.06 1016.65 L910.17 1016.38 L911.27 1016.09 L912.37 1015.78 L913.47 1015.45 L914.56 1015.10 L915.65 1014.73 L916.73 1014.34 L917.80 1013.92 L918.87 1013.48 L919.94 1013.02 L920.99 1012.53 L922.03 1012.02 L923.06 1011.48 L924.08 1010.91 L925.08 1010.32 L926.06 1009.69 L927.03 1009.05 L927.97 1008.37 L928.88 1007.66 L929.78 1006.92 L930.64 1006.15 L931.48 1005.35 L932.29 1004.52 L933.08 1003.66 L933.85 1002.78 L934.59 1001.87 L935.32 1000.95 L936.04 1000.01 L936.75 999.05 L937.44 998.08 L938.13 997.11 L938.82 996.12 L939.51 995.14 L940.20 994.15 L940.89 993.16 L941.57 992.16 L942.25 991.16 L942.90 990.16 L943.54 989.14 L944.14 988.11 L944.70 987.06 L945.22 985.99 L945.69 984.90 L946.10 983.78 L946.45 982.64 L946.73 981.48 L946.96 980.29 L947.12 979.09 L947.23 977.87 L947.28 976.64 L947.28 975.42 L947.24 974.19 L947.15 972.96 L947.02 971.75 L946.84 970.54 L946.63 969.34 L946.37 968.15 L946.08 966.98 L945.74 965.82 L945.38 964.67 L944.97 963.53 L944.53 962.42 L944.06 961.32 L943.56 960.23 L943.03 959.17 L942.47 958.11 L941.90 957.07 L941.30 956.04 L940.69 955.02 L940.06 954.00 L939.42 952.99 L938.77 951.99 L938.12 950.99 L937.47 949.99 L936.81 949.00 L936.16 948.00 L935.51 947.00 L934.86 946.01 L934.20 945.01 L933.55 944.02 L932.90 943.02 L932.25 942.03 L931.60 941.03 L930.96 940.04 L930.31 939.05 L929.66 938.05 L929.01 937.06 L928.36 936.06 L927.72 935.07 L927.07 934.08 L926.43 933.08 L925.78 932.09 L925.13 931.09 L924.49 930.10 L923.84 929.11 L923.20 928.11 L922.55 927.12 L921.91 926.12 L921.27 925.13 L920.62 924.13 L919.98 923.14 L919.33 922.14 L918.69 921.15 L918.04 920.15 L917.40 919.15 L916.75 918.16 L916.11 917.16 L915.47 916.16 L914.82 915.16 L914.18 914.17 L913.53 913.17 L912.89 912.17 L912.24 911.17 L911.60 910.18 L910.96 909.18 L910.31 908.18 L909.67 907.18 L909.02 906.18 L908.38 905.19 L907.73 904.19 L907.09 903.19 L906.45 902.19 L905.80 901.20 L905.16 900.20 L904.51 899.20 L903.87 898.20 L903.23 897.20 L902.58 896.21 L901.94 895.21 L901.29 894.21 L900.65 893.21 L900.00 892.22 L899.36 891.22 L898.72 890.22 L898.07 889.23 L897.43 888.23 L896.78 887.23 L896.14 886.23 L895.49 885.24 L894.85 884.24 L894.21 883.24 L893.56 882.25 L892.92 881.25 L892.27 880.25 L891.63 879.25 L890.98 878.26 L890.34 877.26 L889.70 876.26 L889.05 875.26 L888.41 874.27 L887.76 873.27 L887.12 872.27 L886.47 871.28 L885.83 870.28 L885.19 869.28 L884.54 868.28 L883.90 867.29 L883.25 866.29 L882.61 865.29 L881.96 864.29 L881.32 863.30 L880.68 862.30 L880.03 861.30 L879.39 860.30 L878.74 859.31 L878.10 858.31 L877.45 857.31 L876.81 856.31 L876.17 855.32 L875.52 854.32 L874.88 853.32 L874.23 852.33 L873.59 851.33 L872.94 850.33 L872.30 849.33 L871.66 848.34 L871.01 847.34 L870.37 846.34 L869.72 845.34 L869.08 844.35 L868.43 843.35 L867.79 842.35 L867.15 841.35 L866.50 840.36 L865.86 839.36 L865.21 838.36 L864.57 837.37 L863.92 836.37 L863.28 835.37 L862.64 834.37 L861.99 833.38 L861.35 832.38 L860.70 831.38 L860.06 830.38 L859.41 829.39 L858.77 828.39 L858.13 827.39 L857.48 826.39 L856.84 825.40 L856.19 824.40 L855.55 823.40 L854.91 822.41 L854.26 821.41 L853.62 820.41 L852.97 819.41 L852.33 818.42 L851.68 817.42 L851.04 816.42 L850.40 815.42 L849.75 814.43 L849.11 813.43 L848.46 812.43 L847.82 811.43 L847.17 810.44 L846.53 809.44 L845.89 808.44 L845.24 807.45 L844.60 806.45 L843.95 805.45 L843.31 804.45 L842.66 803.46 L842.02 802.46 L841.38 801.46 L840.73 800.46 L840.09 799.47 L839.44 798.47 L838.80 797.47 L838.15 796.47 L837.51 795.48 L836.87 794.48 L836.22 793.48 L835.58 792.49 L834.93 791.49 L834.29 790.49 L833.64 789.49 L833.00 788.50 L832.36 787.50 L831.71 786.50 L831.07 785.50 L830.42 784.51 L829.78 783.51 L829.13 782.51 L828.49 781.51 L827.85 780.52 L827.20 779.52 L826.56 778.52 L825.91 777.53 L825.27 776.53 L824.62 775.53 L823.98 774.53 L823.34 773.54 L822.69 772.54 L822.05 771.54 L821.40 770.54 L820.76 769.55 L820.11 768.55 L819.47 767.55 L818.83 766.56 L818.18 765.56 L817.54 764.56 L816.89 763.56 L816.25 762.57 L815.60 761.57 L814.96 760.57 L814.32 759.57 L813.67 758.58 L813.03 757.58 L812.38 756.58 L811.74 755.58 L811.09 754.59 L810.45 753.59 L809.81 752.59 L809.16 751.60 L808.52 750.60 L807.87 749.60 L807.23 748.60 L806.59 747.61 L805.94 746.61 L805.30 745.61 L804.65 744.61 L804.01 743.61 L803.37 742.62 L802.72 741.62 L802.08 740.62 L801.43 739.62 L800.79 738.63 L800.15 737.63 L799.50 736.63 L798.86 735.64 L798.21 734.64 L797.57 733.64 L796.92 732.65 L796.28 731.65 L795.63 730.65 L794.99 729.66 L794.34 728.66 L793.69 727.66 L793.05 726.67 L792.40 725.67 L791.76 724.67 L791.11 723.68 L790.47 722.68 L789.82 721.68 L789.18 720.69 L788.53 719.69 L787.89 718.69 L787.25 717.69 L786.60 716.69 L785.96 715.70 L785.32 714.70 L784.68 713.70 L784.04 712.70 L783.40 711.70 L782.76 710.70 L782.12 709.70 L781.48 708.70 L780.84 707.70 L780.20 706.70 L779.56 705.70 L778.92 704.70 L778.27 703.70 L777.63 702.70 L776.99 701.70 L776.34 700.70 L775.70 699.71 L775.05 698.71 L774.40 697.72 L773.75 696.72 L773.10 695.73 L772.45 694.74 L771.79 693.75 L771.12 692.77 L770.42 691.82 L769.68 690.90 L768.91 690.01 L768.11 689.16 L767.27 688.33 L766.41 687.54 L765.52 686.79 L764.60 686.08 L763.66 685.40 L762.70 684.77 L761.71 684.17 L760.70 683.62 L759.68 683.09 L758.65 682.57 L757.63 682.05 L756.60 681.53 L755.57 681.01 L754.55 680.50 L753.52 679.99 L752.49 679.48 L751.46 678.97 L750.43 678.46 L749.40 677.95 L748.37 677.45 L747.34 676.94 L746.30 676.44 L745.27 675.93 L744.24 675.43 L743.21 674.92 L742.18 674.42 L741.14 673.91 L740.11 673.41 L739.08 672.90 L738.05 672.40 L737.02 671.89 L735.99 671.38 L734.96 670.87 L733.93 670.37 L732.90 669.86 L731.87 669.35 L730.84 668.84 L729.81 668.33 L728.78 667.82 L727.75 667.31 L726.72 666.79 L725.69 666.28 L724.66 665.77 L723.63 665.26 L722.61 664.75 L721.58 664.24 L720.55 663.73 L719.52 663.22 L718.49 662.71 L717.46 662.20 L716.43 661.69 L715.40 661.18 L714.37 660.67 L713.34 660.16 L712.31 659.65 L711.28 659.14 L710.25 658.63 L709.22 658.12 L708.19 657.61 L707.16 657.10 L706.13 656.59 L705.10 656.08 L704.07 655.57 L703.04 655.06 L702.01 654.55 L700.98 654.04 L699.95 653.53 L698.92 653.03 L697.89 652.52 L696.86 652.01 L695.83 651.50 L694.80 650.99 L693.77 650.48 L692.75 649.97 L691.72 649.46 L690.69 648.95 L689.66 648.44 L688.63 647.93 L687.60 647.42 L686.57 646.91 L685.54 646.40 L684.51 645.89 L683.48 645.38 L682.45 644.87 L681.42 644.36 L680.39 643.85 L679.36 643.34 L678.33 642.83 L677.30 642.32 L676.27 641.81 L675.24 641.30 L674.21 640.79 L673.18 640.28 L672.15 639.78 L671.12 639.27 L670.09 638.76 L669.06 638.25 L668.03 637.74 L667.00 637.23 L665.97 636.72 L664.94 636.21 L663.91 635.70 L662.88 635.19 L661.85 634.68 L660.83 634.17 L659.80 633.66 L658.77 633.15 L657.74 632.64 L656.71 632.13 L655.68 631.62 L654.65 631.11 L653.62 630.60 L652.59 630.09 L651.56 629.58 L650.53 629.07 L649.50 628.56 L648.47 628.05 L647.44 627.54 L646.41 627.03 L645.38 626.53 L644.35 626.02 L643.32 625.51 L642.29 625.00 L641.26 624.49 L640.23 623.98 L639.20 623.47 L638.17 622.96 L637.14 622.45 L636.11 621.94 L635.08 621.43 L634.05 620.92 L633.02 620.41 L631.99 619.90 L630.96 619.39 L629.93 618.88 L628.90 618.37 L627.87 617.86 L626.85 617.35 L625.82 616.84 L624.79 616.33 L623.76 615.82 L622.73 615.31 L621.70 614.80 L620.67 614.29 L619.64 613.78 L618.61 613.28 L617.58 612.77 L616.55 612.26 L615.52 611.75 L614.49 611.24 L613.46 610.73 L612.43 610.22 L611.40 609.71 L610.37 609.20 L609.34 608.69 L608.31 608.18 L607.28 607.67 L606.25 607.16 L605.22 606.65 L604.19 606.14 L603.16 605.63 L602.13 605.12 L601.10 604.61 L600.07 604.10 L599.04 603.59 L598.01 603.08 L596.98 602.57 L595.95 602.06 L594.92 601.55 L593.90 601.04 L592.87 600.53 L591.84 600.03 L590.81 599.52 L589.78 599.01 L588.75 598.50 L587.72 597.99 L586.69 597.48 L585.66 596.97 L584.63 596.46 L583.60 595.95 L582.57 595.44 L581.54 594.93 L580.51 594.42 L579.48 593.91 L578.45 593.40 L577.42 592.89 L576.39 592.38 L575.36 591.87 L574.33 591.36 L573.30 590.85 L572.27 590.34 L571.24 589.83 L570.21 589.32 L569.18 588.81 L568.15 588.30 L567.12 587.79 L566.09 587.28 L565.06 586.78 L564.03 586.27 L563.00 585.76 L561.97 585.25 L560.94 584.74 L559.92 584.23 L558.89 583.72 L557.86 583.21 L556.83 582.70 L555.80 582.19 L554.77 581.68 L553.74 581.17 L552.71 580.66 L551.68 580.15 L550.65 579.64 L549.62 579.13 L548.59 578.62 L547.56 578.11 L546.53 577.60 L545.50 577.09 L544.47 576.58 L543.44 576.07 L542.41 575.56 L541.38 575.05 L540.35 574.54 L539.32 574.03 L538.29 573.52 L537.26 573.02 L536.23 572.51 L535.20 572.00 L534.17 571.49 L533.14 570.98 L532.11 570.47 L531.08 569.96 L530.05 569.45 L529.02 568.94 L527.99 568.43 L526.97 567.92 L525.94 567.41 L524.91 566.90 L523.88 566.39 L522.85 565.88 L521.82 565.37 L520.79 564.86 L519.76 564.35 L518.73 563.84 L517.70 563.33 L516.67 562.82 L515.64 562.31 L514.61 561.80 L513.58 561.29 L512.55 560.78 L511.52 560.27 L510.49 559.77 L509.46 559.26 L508.43 558.75 L507.40 558.24 L506.37 557.73 L505.34 557.22 L504.31 556.71 L503.28 556.20 L502.25 555.69 L501.22 555.18 L500.19 554.67 L499.16 554.16 L498.13 553.65 L497.10 553.14 L496.07 552.63 L495.04 552.12 L494.01 551.61 L492.99 551.10 L491.96 550.59 L490.93 550.08 L489.90 549.57 L488.87 549.06 L487.84 548.55 L486.81 548.04 L485.78 547.53 L484.75 547.02 L483.72 546.52 L482.69 546.01 L481.66 545.50 L480.63 544.99 L479.60 544.48 L478.57 543.97 L477.54 543.46 L476.51 542.95 L475.48 542.44 L474.45 541.93 L473.42 541.42 L472.39 540.91 L471.36 540.40 L470.33 539.89 L469.30 539.38 L468.27 538.87 L467.24 538.36 L466.21 537.85 L465.18 537.34 L464.15 536.83 L463.12 536.32 L462.09 535.81 L461.06 535.30 L460.04 534.79 L459.01 534.28 L457.98 533.77 L456.95 533.26 L455.92 532.76 L454.89 532.25 L453.86 531.74 L452.83 531.23 L451.80 530.72 L450.77 530.21 L449.74 529.70 L448.71 529.19 L447.68 528.68 L446.65 528.17 L445.62 527.66 L444.59 527.15 L443.56 526.64 L442.53 526.13 L441.50 525.62 L440.47 525.11 L439.44 524.60 L438.41 524.09 L437.38 523.58 L436.35 523.07 L435.32 522.56 L434.29 522.05 L433.26 521.54 L432.23 521.03 L431.20 520.52 L430.17 520.01 L429.14 519.51 L428.11 519.00 L427.08 518.49 L426.06 517.98 L425.03 517.47 L424.00 516.96 L422.97 516.45 L421.94 515.94 L420.91 515.43 L419.88 514.92 L418.85 514.41 L417.82 513.90 L416.79 513.39 L415.76 512.88 L414.73 512.37 L413.70 511.86 L412.67 511.35 L411.64 510.84 L410.61 510.33 L409.58 509.82 L408.55 509.31 L407.52 508.80 L406.49 508.29 L405.46 507.78 L404.43 507.27 L403.40 506.76 L402.37 506.26 L401.34 505.75 L400.31 505.24 L399.28 504.73 L398.25 504.22 L397.22 503.71 L396.19 503.20 L395.16 502.69 L394.13 502.18 L393.10 501.67 L392.08 501.16 L391.05 500.65 L390.02 500.14 L388.99 499.63 L387.96 499.12 L386.93 498.61 L385.90 498.10 L384.87 497.59 L383.84 497.08 L382.81 496.57 L381.78 496.06 L380.75 495.55 L379.72 495.04 L378.69 494.53 L377.66 494.02 L376.63 493.51 L375.60 493.01 L374.57 492.50 L373.54 491.99 L372.51 491.48 L371.48 490.97 L370.45 490.46 L369.42 489.95 L368.39 489.44 L367.36 488.93 L366.33 488.42 L365.30 487.91 L364.27 487.40 L363.24 486.89 L362.21 486.38 L361.18 485.87 L360.15 485.36 L359.13 484.85 L358.10 484.34 L357.07 483.83 L356.04 483.32 L355.01 482.81 L353.98 482.30 L352.95 481.79 L351.92 481.28 L350.89 480.77 L349.86 480.26 L348.83 479.75 L347.80 479.25 L346.77 478.74 L345.74 478.23 L344.71 477.72 L343.68 477.21 L342.65 476.70 L341.62 476.19 L340.59 475.68 L339.56 475.17 L338.53 474.66 L337.50 474.15 L336.47 473.64 L335.44 473.13 L334.41 472.62 L333.38 472.11 L332.35 471.60 L331.32 471.09 L330.29 470.58 L329.26 470.07 L328.23 469.56 L327.20 469.05 L326.17 468.54 L325.15 468.03 L324.12 467.52 L323.09 467.01 L322.06 466.50 L321.03 466.00 L320.00 465.49 L318.97 464.98 L317.94 464.47 L316.91 463.96 L315.88 463.45 L314.85 462.94 L313.82 462.43 L312.79 461.92 L311.76 461.41 L310.73 460.90 L309.70 460.39 L308.67 459.88 L307.64 459.37 L306.61 458.86 L305.58 458.35 L304.55 457.84 L303.52 457.33 L302.49 456.82 L301.46 456.31 L300.43 455.80 L299.40 455.29 L298.37 454.78 L297.34 454.27 L296.31 453.76 L295.28 453.25 L294.25 452.75 L293.22 452.24 L292.20 451.73 L291.17 451.22 L290.14 450.71 L289.11 450.20 L288.08 449.69 L287.05 449.18 L286.02 448.67 L284.99 448.16 L283.96 447.65 L282.93 447.14 L281.90 446.63 L280.87 446.12 L279.84 445.61 L278.81 445.10 L277.78 444.59 L276.75 444.08 L275.72 443.57 L274.69 443.06 L273.66 442.55 L272.63 442.04 L271.60 441.53 L270.57 441.02 L269.54 440.51 L268.51 440.00 L267.48 439.49 L266.45 438.99 L265.42 438.48 L264.39 437.97 L263.36 437.46 L262.33 436.95 L261.30 436.44 L260.27 435.93 L259.25 435.42 L258.22 434.91 L257.19 434.40 L256.16 433.89 L255.13 433.38 L254.10 432.87 L253.07 432.36 L252.04 431.85 L251.01 431.34 L249.98 430.83 L248.95 430.32 L247.92 429.81 L246.89 429.30 L245.86 428.79 L244.83 428.28 L243.80 427.77 L242.77 427.27 L241.74 426.76 L240.71 426.25 L239.68 425.74 L238.65 425.23 L237.62 424.72 L236.59 424.21 L235.56 423.70 L234.53 423.19 L233.50 422.68 L232.47 422.17 L231.44 421.66 L230.41 421.15 L229.38 420.64 L228.36 420.13 L227.33 419.62 L226.30 419.11 L225.27 418.60 L224.24 418.09 L223.21 417.58 L222.18 417.07 L221.15 416.56 L220.12 416.05 L219.09 415.54 L218.06 415.03 L217.03 414.52 L216.00 414.01 L214.97 413.50 L213.94 412.99 L212.91 412.48 L211.88 411.98 L210.85 411.47 L209.82 410.96 L208.79 410.45 L207.76 409.94 L206.72 409.43 L205.69 408.93 L204.66 408.42 L203.63 407.91 L202.60 407.40 L201.57 406.89 L200.54 406.38 L199.51 405.87 L198.48 405.36 L197.45 404.85 L196.42 404.34 L195.40 403.83 L194.37 403.32 L193.34 402.81 L192.31 402.29 L191.29 401.78 L190.26 401.26 L189.24 400.75 L188.21 400.24 L187.19 399.72 L186.16 399.21 L185.14 398.69 L184.11 398.18 L183.08 397.66 L182.06 397.15 L181.03 396.64 L180.00 396.13 L178.97 395.62 L177.94 395.11 L176.91 394.61 L175.87 394.10 L174.84 393.60 L173.80 393.10 L172.76 392.60 L171.72 392.11 L170.67 391.61 L169.63 391.12 L168.59 390.62 L167.55 390.12 L166.51 389.61 L165.48 389.09 L164.46 388.56 L163.45 388.01 L162.45 387.45 L161.45 386.87 L160.47 386.27 L159.51 385.64 L158.56 384.99 L157.63 384.32 L156.71 383.62 L155.81 382.90 L154.92 382.16 L154.04 381.39 L153.17 380.62 L152.31 379.82 L151.45 379.01 L150.61 378.19 L149.77 377.36 L148.93 376.52 L148.10 375.67 L147.27 374.81 L146.45 373.95 L145.64 373.07 L144.85 372.18 L144.09 371.27 L143.35 370.34 L142.65 369.39 L141.99 368.41 L141.37 367.41 L140.80 366.37 L140.29 365.30 L139.83 364.20 L139.42 363.07 L139.07 361.91 L138.77 360.73 L138.52 359.54 L138.31 358.33 L138.15 357.12 L138.03 355.90 L137.95 354.67 L137.90 353.45 L137.90 352.24 L137.93 351.02 L137.99 349.81 L138.08 348.60 L138.20 347.39 L138.35 346.19 L138.51 344.99 L138.70 343.79 L138.91 342.60 L139.14 341.41 L139.39 340.22 L139.64 339.04 L139.92 337.86 L140.20 336.69 L140.50 335.52 L140.82 334.35 L141.15 333.19 L141.49 332.03 L141.84 330.88 L142.20 329.73 L142.58 328.59 L142.96 327.46 L143.36 326.33 L143.77 325.20 L144.18 324.07 L144.59 322.95 L145.01 321.83 L145.42 320.70 L145.83 319.57 L146.24 318.44 L146.64 317.30 L147.03 316.15 L147.40 315.00 L147.77 313.83 L148.12 312.66 L148.47 311.49 L148.82 310.31 L149.16 309.13 L149.50 307.96 L149.85 306.78 L150.21 305.61 L150.58 304.45 L150.96 303.30 L151.36 302.16 L151.77 301.03 L152.21 299.91 L152.68 298.82 L153.17 297.74 L153.69 296.68 L154.25 295.65 L154.84 294.64 L155.47 293.66 L156.14 292.71 L156.86 291.79 L157.61 290.89 L158.39 290.02 L159.20 289.18 L160.05 288.36 L160.92 287.57 L161.81 286.80 L162.73 286.05 L163.67 285.33 L164.62 284.62 L165.58 283.94 L166.56 283.28 L167.55 282.63 L168.54 282.01 L169.54 281.40 L170.54 280.81 L171.55 280.24 L172.57 279.69 L173.59 279.15 L174.61 278.64 L175.65 278.14 L176.68 277.65 L177.73 277.19 L178.78 276.74 L179.83 276.31 L180.89 275.89 L181.96 275.50 L183.04 275.12 L184.12 274.75 L185.21 274.40 L186.30 274.06 L187.39 273.74 L188.49 273.43 L189.59 273.13 L190.70 272.85 L191.81 272.57 L192.92 272.30 L194.03 272.05 L195.14 271.80 L196.26 271.56 L197.38 271.34 L198.49 271.12 L199.61 270.92 L200.73 270.73 L201.86 270.55 L202.98 270.39 L204.11 270.24 L205.23 270.10 L206.36 269.98 L207.49 269.88 L208.62 269.79 L209.76 269.72 L210.89 269.66 L212.03 269.61 L213.16 269.57 L214.30 269.55 L215.43 269.54 L216.57 269.53 L217.71 269.54 L218.84 269.55 L219.98 269.57 L221.11 269.59 L222.25 269.62 L223.39 269.67 L224.52 269.72 L225.65 269.78 L226.79 269.85 L227.92 269.93 L229.05 270.02 L230.18 270.12 L231.31 270.24 L232.44 270.37 L233.57 270.51 L234.69 270.66 L235.82 270.82 L236.94 270.99 L238.06 271.16 L239.19 271.34 L240.31 271.52 L241.43 271.70 L242.56 271.88 L243.68 272.06 L244.80 272.23 L245.93 272.40 L247.05 272.56 L248.18 272.72 L249.30 272.88 L250.43 273.05 L251.55 273.21 L252.68 273.38 L253.80 273.56 L254.92 273.74 L256.04 273.92 L257.16 274.12 L258.28 274.33 L259.40 274.55 L260.51 274.77 L261.62 275.00 L262.74 275.24 L263.85 275.47 L264.96 275.71 L266.08 275.95 L267.19 276.18 L268.31 276.41 L269.42 276.63 L270.54 276.85 L271.66 277.05 L272.78 277.25 L273.90 277.44 L275.02 277.63 L276.14 277.80 L277.27 277.98 L278.39 278.15 L279.51 278.31 L280.64 278.48 L281.76 278.64 L282.89 278.80 L284.02 278.96 L285.14 279.12 L286.27 279.28 L287.39 279.44 L288.52 279.60 L289.64 279.76 L290.77 279.92 L291.89 280.08 L293.02 280.24 L294.14 280.40 L295.27 280.56 L296.39 280.72 L297.52 280.87 L298.64 281.03 L299.77 281.18 L300.89 281.34 L302.02 281.49 L303.15 281.64 L304.27 281.80 L305.40 281.95 L306.52 282.10 L307.65 282.24 L308.78 282.39 L309.90 282.54 L311.03 282.69 L312.16 282.83 L313.28 282.98 L314.41 283.13 L315.54 283.27 L316.66 283.41 L317.79 283.56 L318.92 283.70 L320.05 283.85 L321.17 283.99 L322.30 284.13 L323.43 284.27 L324.55 284.42 L325.68 284.56 L326.81 284.70 L327.94 284.84" stroke="#d95319" stroke-width="3.0"/>
</g>
<line x1="155.72" y1="315.60" x2="155.72" y2="313.40" stroke="#1a1a1a" stroke-width="1.60"/>
<line x1="155.72" y1="230.70" x2="155.72" y2="232.90" stroke="#1a1a1a" stroke-width="1.60"/>
<line x1="173.05" y1="315.60" x2="173.05" y2="313.40" stroke="#1a1a1a" stroke-width="1.60"/>
<line x1="173.05" y1="230.70" x2="173.05" y2="232.90" stroke="#1a1a1a" stroke-width="1.60"/>
<line x1="190.38" y1="315.60" x2="190.38" y2="313.40" stroke="#1a1a1a" stroke-width="1.60"/>
<line x1="190.38" y1="230.70" x2="190.38" y2="232.90" stroke="#1a1a1a" stroke-width="1.60"/>
<line x1="207.70" y1="315.60" x2="207.70" y2="311.80" stroke="#1a1a1a" stroke-width="1.60"/>
<line x1="207.70" y1="230.70" x2="207.70" y2="234.50" stroke="#1a1a1a" stroke-width="1.60"/>
<line x1="225.02" y1="315.60" x2="225.02" y2="313.40" stroke="#1a1a1a" stroke-width="1.60"/>
<line x1="225.02" y1="230.70" x2="225.02" y2="232.90" stroke="#1a1a1a" stroke-width="1.60"/>
<line x1="242.35" y1="315.60" x2="242.35" y2="313.40" stroke="#1a1a1a" stroke-width="1.60"/>
<line x1="242.35" y1="230.70" x2="242.35" y2="232.90" stroke="#1a1a1a" stroke-width="1.60"/>
<line x1="259.67" y1="315.60" x2="259.67" y2="313.40" stroke="#1a1a1a" stroke-width="1.60"/>
<line x1="259.67" y1="230.70" x2="259.67" y2="232.90" stroke="#1a1a1a" stroke-width="1.60"/>
<line x1="277.00" y1="315.60" x2="277.00" y2="311.80" stroke="#1a1a1a" stroke-width="1.60"/>
<line x1="277.00" y1="230.70" x2="277.00" y2="234.50" stroke="#1a1a1a" stroke-width="1.60"/>
<line x1="294.32" y1="315.60" x2="294.32" y2="313.40" stroke="#1a1a1a" stroke-width="1.60"/>
<line x1="294.32" y1="230.70" x2="294.32" y2="232.90" stroke="#1a1a1a" stroke-width="1.60"/>
<line x1="311.65" y1="315.60" x2="311.65" y2="313.40" stroke="#1a1a1a" stroke-width="1.60"/>
<line x1="311.65" y1="230.70" x2="311.65" y2="232.90" stroke="#1a1a1a" stroke-width="1.60"/>
<line x1="328.97" y1="315.60" x2="328.97" y2="313.40" stroke="#1a1a1a" stroke-width="1.60"/>
<line x1="328.97" y1="230.70" x2="328.97" y2="232.90" stroke="#1a1a1a" stroke-width="1.60"/>
<line x1="346.30" y1="315.60" x2="346.30" y2="311.80" stroke="#1a1a1a" stroke-width="1.60"/>
<line x1="346.30" y1="230.70" x2="346.30" y2="234.50" stroke="#1a1a1a" stroke-width="1.60"/>
<line x1="138.10" y1="312.38" x2="140.30" y2="312.38" stroke="#1a1a1a" stroke-width="1.60"/>
<line x1="355.80" y1="312.38" x2="353.60" y2="312.38" stroke="#1a1a1a" stroke-width="1.60"/>
<line x1="138.10" y1="301.45" x2="140.30" y2="301.45" stroke="#1a1a1a" stroke-width="1.60"/>
<line x1="355.80" y1="301.45" x2="353.60" y2="301.45" stroke="#1a1a1a" stroke-width="1.60"/>
<line x1="138.10" y1="290.53" x2="140.30" y2="290.53" stroke="#1a1a1a" stroke-width="1.60"/>
<line x1="355.80" y1="290.53" x2="353.60" y2="290.53" stroke="#1a1a1a" stroke-width="1.60"/>
<line x1="138.10" y1="279.60" x2="141.90" y2="279.60" stroke="#1a1a1a" stroke-width="1.60"/>
<line x1="355.80" y1="279.60" x2="352.00" y2="279.60" stroke="#1a1a1a" stroke-width="1.60"/>
<line x1="138.10" y1="268.68" x2="140.30" y2="268.68" stroke="#1a1a1a" stroke-width="1.60"/>
<line x1="355.80" y1="268.68" x2="353.60" y2="268.68" stroke="#1a1a1a" stroke-width="1.60"/>
<line x1="138.10" y1="257.75" x2="140.30" y2="257.75" stroke="#1a1a1a" stroke-width="1.60"/>
<line x1="355.80" y1="257.75" x2="353.60" y2="257.75" stroke="#1a1a1a" stroke-width="1.60"/>
<line x1="138.10" y1="246.83" x2="140.30" y2="246.83" stroke="#1a1a1a" stroke-width="1.60"/>
<line x1="355.80" y1="246.83" x2="353.60" y2="246.83" stroke="#1a1a1a" stroke-width="1.60"/>
<line x1="138.10" y1="235.90" x2="141.90" y2="235.90" stroke="#1a1a1a" stroke-width="1.60"/>
<line x1="355.80" y1="235.90" x2="352.00" y2="235.90" stroke="#1a1a1a" stroke-width="1.60"/>
<rect x="138.1" y="230.7" width="217.70000000000002" height="84.90000000000003" fill="none" stroke="#1a1a1a" stroke-width="1.7"/>
<!-- legend -->
<rect x="332.6" y="45.7" width="169.8" height="49.7" fill="#fff" stroke="#1a1a1a" stroke-width="2"/>
<path d="M337.2 59.9 L385.2 59.9 M371.5 55.7 L385.2 59.9 L371.5 64.1" fill="none" stroke="#0000ff" stroke-width="0.9"/>
<line x1="337.2" y1="82.8" x2="385" y2="82.8" stroke="#d95319" stroke-width="3.2"/>
<text transform="translate(389.4 66.7) scale(1 1.08)" font-size="17.3px">Speed vector</text>
<text transform="translate(389.4 88.7) scale(1 1.08)" font-size="17.3px">Trajectory</text>
<text transform="translate(80.50 394.70) scale(1 1.120)" text-anchor="middle" font-size="18.70">1500</text>
<text transform="translate(154.68 394.70) scale(1 1.120)" text-anchor="middle" font-size="18.70">2000</text>
<text transform="translate(228.87 394.70) scale(1 1.120)" text-anchor="middle" font-size="18.70">2500</text>
<text transform="translate(303.05 394.70) scale(1 1.120)" text-anchor="middle" font-size="18.70">3000</text>
<text transform="translate(377.23 394.70) scale(1 1.120)" text-anchor="middle" font-size="18.70">3500</text>
<text transform="translate(451.42 394.70) scale(1 1.120)" text-anchor="middle" font-size="18.70">4000</text>
<text transform="translate(525.60 394.70) scale(1 1.120)" text-anchor="middle" font-size="18.70">4500</text>
<text transform="translate(72.80 374.20) scale(1 1.120)" text-anchor="end" font-size="18.70">0</text>
<text transform="translate(72.80 330.37) scale(1 1.120)" text-anchor="end" font-size="18.70">500</text>
<text transform="translate(72.80 286.54) scale(1 1.120)" text-anchor="end" font-size="18.70">1000</text>
<text transform="translate(72.80 242.71) scale(1 1.120)" text-anchor="end" font-size="18.70">1500</text>
<text transform="translate(72.80 198.88) scale(1 1.120)" text-anchor="end" font-size="18.70">2000</text>
<text transform="translate(72.80 155.05) scale(1 1.120)" text-anchor="end" font-size="18.70">2500</text>
<text transform="translate(72.80 111.22) scale(1 1.120)" text-anchor="end" font-size="18.70">3000</text>
<text transform="translate(72.80 67.40) scale(1 1.120)" text-anchor="end" font-size="18.70">3500</text>
<text transform="translate(72.80 23.57) scale(1 1.120)" text-anchor="end" font-size="18.70">4000</text>
<text transform="translate(207.70 341.80) scale(1 1.060)" text-anchor="middle" font-size="17.00">2200</text>
<text transform="translate(277.00 341.80) scale(1 1.060)" text-anchor="middle" font-size="17.00">2400</text>
<text transform="translate(346.30 341.80) scale(1 1.060)" text-anchor="middle" font-size="17.00">2600</text>
<text transform="translate(130.30 286.70) scale(1 1.060)" text-anchor="end" font-size="17.00">3800</text>
<text transform="translate(130.30 243.00) scale(1 1.060)" text-anchor="end" font-size="17.00">4000</text>
<text transform="translate(302.8 422.8) scale(1 1.03)" text-anchor="middle" font-size="21px">E/m</text>
<text transform="translate(20.9 186.6) rotate(-90)" text-anchor="middle" font-size="21.3px" letter-spacing="0.7">N/m</text>
</svg>
</body></html>
